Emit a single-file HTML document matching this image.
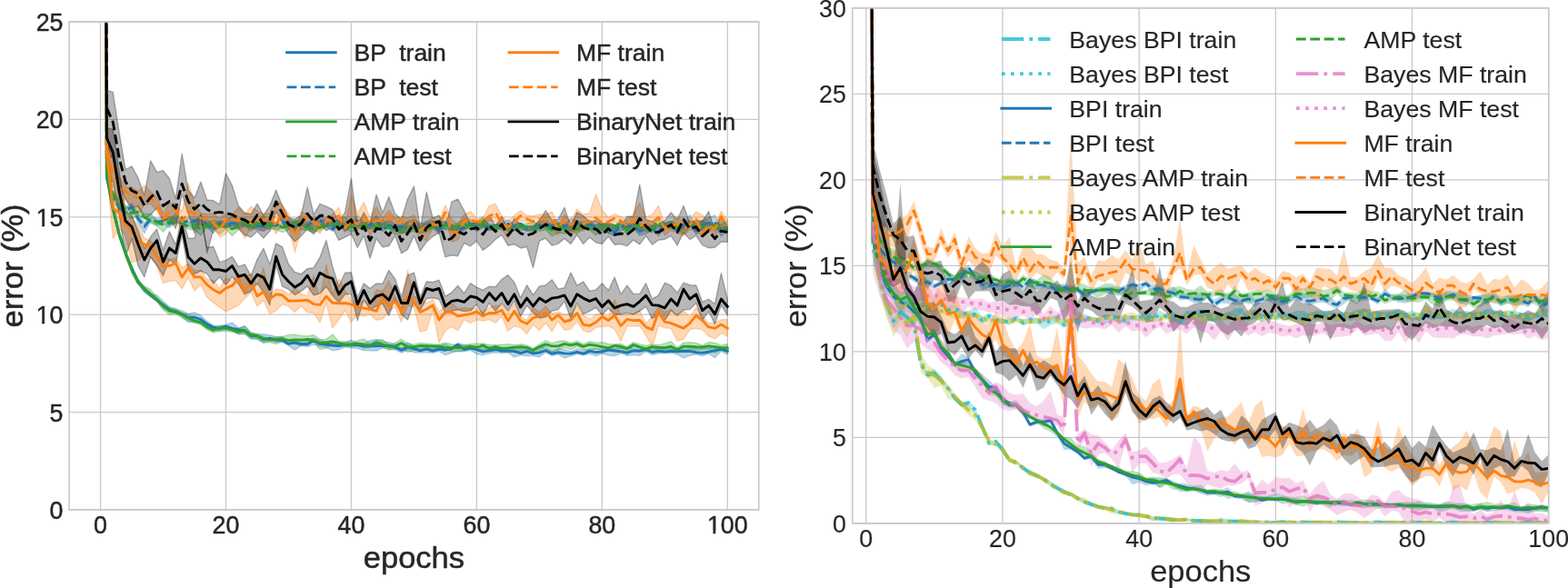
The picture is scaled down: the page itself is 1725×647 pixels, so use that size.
<!DOCTYPE html>
<html><head><meta charset="utf-8"><style>
html,body{margin:0;padding:0;background:#fff;overflow:hidden;}
svg{display:block;}
.tk{font-family:"Liberation Sans",Arial,sans-serif;font-size:26.8px;fill:#262626;stroke:#262626;stroke-width:0.45px;}
.lb{font-family:"Liberation Sans",Arial,sans-serif;font-size:33.6px;fill:#262626;stroke:#262626;stroke-width:0.5px;}
.lg{font-family:"Liberation Sans",Arial,sans-serif;font-size:26.5px;fill:#262626;stroke:#262626;stroke-width:0.45px;}
.tk2{font-family:"Liberation Sans",Arial,sans-serif;font-size:26.8px;fill:#262626;stroke:#262626;stroke-width:0.15px;}
.lb2{font-family:"Liberation Sans",Arial,sans-serif;font-size:33.6px;fill:#262626;stroke:#262626;stroke-width:0.15px;}
.lg2{font-family:"Liberation Sans",Arial,sans-serif;font-size:26.7px;fill:#262626;stroke:#262626;stroke-width:0.15px;}
</style></head><body>
<svg width="1725" height="647" viewBox="0 0 1725 647">
<rect width="1725" height="647" fill="#fff"/>
<line x1="110.54" y1="24.00" x2="110.54" y2="560.95" stroke="#c9c9c9" stroke-width="1.3"/>
<line x1="248.49" y1="24.00" x2="248.49" y2="560.95" stroke="#c9c9c9" stroke-width="1.3"/>
<line x1="386.45" y1="24.00" x2="386.45" y2="560.95" stroke="#c9c9c9" stroke-width="1.3"/>
<line x1="524.40" y1="24.00" x2="524.40" y2="560.95" stroke="#c9c9c9" stroke-width="1.3"/>
<line x1="662.36" y1="24.00" x2="662.36" y2="560.95" stroke="#c9c9c9" stroke-width="1.3"/>
<line x1="800.31" y1="24.00" x2="800.31" y2="560.95" stroke="#c9c9c9" stroke-width="1.3"/>
<line x1="76.05" y1="560.95" x2="834.80" y2="560.95" stroke="#c9c9c9" stroke-width="1.3"/>
<line x1="76.05" y1="453.56" x2="834.80" y2="453.56" stroke="#c9c9c9" stroke-width="1.3"/>
<line x1="76.05" y1="346.17" x2="834.80" y2="346.17" stroke="#c9c9c9" stroke-width="1.3"/>
<line x1="76.05" y1="238.78" x2="834.80" y2="238.78" stroke="#c9c9c9" stroke-width="1.3"/>
<line x1="76.05" y1="131.39" x2="834.80" y2="131.39" stroke="#c9c9c9" stroke-width="1.3"/>
<line x1="76.05" y1="24.00" x2="834.80" y2="24.00" stroke="#c9c9c9" stroke-width="1.3"/>
<line x1="952.82" y1="8.80" x2="952.82" y2="575.80" stroke="#c9c9c9" stroke-width="1.3"/>
<line x1="1102.99" y1="8.80" x2="1102.99" y2="575.80" stroke="#c9c9c9" stroke-width="1.3"/>
<line x1="1253.17" y1="8.80" x2="1253.17" y2="575.80" stroke="#c9c9c9" stroke-width="1.3"/>
<line x1="1403.35" y1="8.80" x2="1403.35" y2="575.80" stroke="#c9c9c9" stroke-width="1.3"/>
<line x1="1553.52" y1="8.80" x2="1553.52" y2="575.80" stroke="#c9c9c9" stroke-width="1.3"/>
<line x1="1703.70" y1="8.80" x2="1703.70" y2="575.80" stroke="#c9c9c9" stroke-width="1.3"/>
<line x1="937.80" y1="575.80" x2="1703.70" y2="575.80" stroke="#c9c9c9" stroke-width="1.3"/>
<line x1="937.80" y1="481.30" x2="1703.70" y2="481.30" stroke="#c9c9c9" stroke-width="1.3"/>
<line x1="937.80" y1="386.80" x2="1703.70" y2="386.80" stroke="#c9c9c9" stroke-width="1.3"/>
<line x1="937.80" y1="292.30" x2="1703.70" y2="292.30" stroke="#c9c9c9" stroke-width="1.3"/>
<line x1="937.80" y1="197.80" x2="1703.70" y2="197.80" stroke="#c9c9c9" stroke-width="1.3"/>
<line x1="937.80" y1="103.30" x2="1703.70" y2="103.30" stroke="#c9c9c9" stroke-width="1.3"/>
<line x1="937.80" y1="8.80" x2="1703.70" y2="8.80" stroke="#c9c9c9" stroke-width="1.3"/>
<clipPath id="ca"><rect x="76.05" y="24.0" width="758.75" height="536.95"/></clipPath>
<clipPath id="cb"><rect x="937.8" y="8.8" width="765.9000000000001" height="567.0"/></clipPath>
<g clip-path="url(#ca)">
<polygon points="117.4,190.3 124.3,227.7 131.2,255.5 138.1,275.2 145.0,291.9 151.9,307.2 158.8,316.1 165.7,322.9 172.6,324.8 179.5,331.6 186.4,337.4 193.3,340.2 200.2,341.9 207.1,345.4 214.0,343.8 220.9,347.2 227.8,353.5 234.7,358.2 241.6,358.8 248.5,357.1 255.4,355.1 262.3,360.8 269.2,359.1 276.1,366.0 283.0,367.4 289.9,367.8 296.8,368.7 303.7,370.5 310.6,370.5 317.5,375.7 324.4,373.8 331.3,374.3 338.2,373.7 345.1,372.3 352.0,373.9 358.9,376.8 365.8,375.4 372.7,377.4 379.6,377.0 386.4,374.1 393.3,377.6 400.2,377.8 407.1,374.7 414.0,373.6 420.9,376.0 427.8,376.7 434.7,379.1 441.6,382.8 448.5,376.8 455.4,381.5 462.3,383.7 469.2,382.2 476.1,383.2 483.0,380.5 489.9,378.6 496.8,382.1 503.7,377.5 510.6,379.3 517.5,380.1 524.4,380.9 531.3,383.1 538.2,381.5 545.1,381.9 552.0,382.7 558.9,384.0 565.8,382.7 572.7,384.0 579.6,382.2 586.5,385.8 593.4,381.8 600.3,382.8 607.2,386.7 614.1,383.6 621.0,384.5 627.9,386.8 634.8,383.7 641.7,385.9 648.6,383.9 655.5,383.4 662.4,384.6 669.3,382.3 676.2,383.7 683.0,382.7 689.9,383.1 696.8,382.6 703.7,384.5 710.6,382.5 717.5,384.4 724.4,383.0 731.3,382.5 738.2,383.5 745.1,382.7 752.0,384.3 758.9,383.6 765.8,383.2 772.7,382.9 779.6,383.6 786.5,381.2 793.4,381.9 800.3,381.3 800.3,390.0 793.4,386.6 786.5,393.6 779.6,389.3 772.7,391.5 765.8,389.8 758.9,391.3 752.0,393.8 745.1,389.7 738.2,388.2 731.3,388.7 724.4,388.9 717.5,390.5 710.6,386.8 703.7,391.3 696.8,390.6 689.9,391.3 683.0,388.6 676.2,391.5 669.3,391.0 662.4,388.9 655.5,391.7 648.6,389.2 641.7,390.9 634.8,389.4 627.9,391.8 621.0,394.0 614.1,389.8 607.2,391.5 600.3,387.8 593.4,392.8 586.5,391.5 579.6,391.5 572.7,390.7 565.8,393.1 558.9,387.8 552.0,388.2 545.1,387.9 538.2,388.7 531.3,390.6 524.4,389.6 517.5,385.2 510.6,386.7 503.7,386.5 496.8,388.0 489.9,390.6 483.0,386.5 476.1,388.4 469.2,387.5 462.3,388.1 455.4,387.7 448.5,385.4 441.6,388.0 434.7,384.9 427.8,383.7 420.9,382.9 414.0,386.0 407.1,385.7 400.2,385.5 393.3,383.4 386.4,382.8 379.6,381.8 372.7,384.8 365.8,385.7 358.9,381.9 352.0,381.1 345.1,379.1 338.2,381.6 331.3,380.3 324.4,385.2 317.5,380.3 310.6,376.1 303.7,376.6 296.8,375.0 289.9,377.3 283.0,372.8 276.1,372.9 269.2,367.3 262.3,368.0 255.4,363.9 248.5,362.2 241.6,364.5 234.7,362.4 227.8,360.4 220.9,354.0 214.0,354.2 207.1,354.4 200.2,347.9 193.3,344.7 186.4,343.2 179.5,339.2 172.6,331.8 165.7,327.0 158.8,321.5 151.9,311.8 145.0,297.5 138.1,280.3 131.2,262.2 124.3,235.6 117.4,197.2" fill="#1f77b4" fill-opacity="0.3" stroke="#1f77b4" stroke-opacity="0.3" stroke-width="1.4" stroke-linejoin="round"/>
<polygon points="117.4,184.8 124.3,215.1 131.2,224.9 138.1,228.1 145.0,223.7 151.9,233.8 158.8,245.5 165.7,239.0 172.6,239.9 179.5,240.7 186.4,242.4 193.3,235.1 200.2,240.3 207.1,240.2 214.0,242.0 220.9,236.8 227.8,242.1 234.7,246.2 241.6,243.3 248.5,242.6 255.4,238.0 262.3,241.3 269.2,240.9 276.1,243.9 283.0,244.7 289.9,246.5 296.8,243.4 303.7,245.0 310.6,235.4 317.5,242.0 324.4,244.0 331.3,240.5 338.2,244.5 345.1,241.0 352.0,238.9 358.9,242.7 365.8,250.1 372.7,239.0 379.6,248.7 386.4,245.4 393.3,237.0 400.2,244.9 407.1,244.5 414.0,237.3 420.9,246.6 427.8,241.8 434.7,247.6 441.6,246.7 448.5,243.8 455.4,241.5 462.3,245.8 469.2,243.8 476.1,243.1 483.0,245.2 489.9,242.2 496.8,247.3 503.7,250.8 510.6,248.9 517.5,243.2 524.4,245.5 531.3,240.3 538.2,247.0 545.1,246.8 552.0,245.9 558.9,241.4 565.8,247.3 572.7,244.7 579.6,249.9 586.5,248.8 593.4,242.7 600.3,242.6 607.2,247.0 614.1,245.1 621.0,246.9 627.9,240.2 634.8,243.1 641.7,244.6 648.6,242.3 655.5,248.5 662.4,245.1 669.3,247.0 676.2,251.7 683.0,243.2 689.9,245.9 696.8,246.0 703.7,251.5 710.6,247.7 717.5,247.8 724.4,248.7 731.3,245.2 738.2,243.6 745.1,251.3 752.0,245.5 758.9,236.5 765.8,249.8 772.7,243.2 779.6,239.5 786.5,236.9 793.4,250.6 800.3,248.3 800.3,253.4 793.4,260.1 786.5,247.4 779.6,248.0 772.7,251.6 765.8,257.9 758.9,247.5 752.0,251.6 745.1,255.9 738.2,249.4 731.3,251.4 724.4,259.5 717.5,253.2 710.6,257.2 703.7,259.2 696.8,251.2 689.9,251.2 683.0,253.7 676.2,259.7 669.3,256.7 662.4,253.8 655.5,252.4 648.6,252.9 641.7,249.7 634.8,249.2 627.9,254.3 621.0,250.6 614.1,249.3 607.2,251.5 600.3,249.9 593.4,251.4 586.5,254.3 579.6,254.4 572.7,250.0 565.8,254.1 558.9,250.9 552.0,253.1 545.1,251.2 538.2,253.5 531.3,250.3 524.4,254.7 517.5,248.7 510.6,253.7 503.7,256.5 496.8,253.1 489.9,247.5 483.0,256.9 476.1,249.2 469.2,252.6 462.3,252.6 455.4,248.3 448.5,255.9 441.6,255.8 434.7,254.4 427.8,250.0 420.9,254.5 414.0,244.6 407.1,252.1 400.2,252.2 393.3,247.1 386.4,249.9 379.6,254.6 372.7,248.0 365.8,254.5 358.9,249.4 352.0,245.3 345.1,246.6 338.2,249.6 331.3,247.8 324.4,255.8 317.5,249.2 310.6,250.8 303.7,252.7 296.8,250.2 289.9,254.3 283.0,253.0 276.1,250.3 269.2,249.5 262.3,248.0 255.4,248.4 248.5,250.1 241.6,249.0 234.7,256.4 227.8,250.2 220.9,246.1 214.0,252.2 207.1,248.2 200.2,247.7 193.3,244.3 186.4,250.6 179.5,246.3 172.6,248.2 165.7,243.4 158.8,256.6 151.9,245.5 145.0,229.9 138.1,234.2 131.2,231.7 124.3,220.2 117.4,198.9" fill="#1f77b4" fill-opacity="0.3" stroke="#1f77b4" stroke-opacity="0.3" stroke-width="1.4" stroke-linejoin="round"/>
<polygon points="117.4,187.0 124.3,224.4 131.2,255.3 138.1,276.0 145.0,294.6 151.9,308.3 158.8,314.9 165.7,318.4 172.6,327.4 179.5,334.2 186.4,338.7 193.3,339.4 200.2,344.4 207.1,345.5 214.0,350.8 220.9,349.9 227.8,356.2 234.7,360.8 241.6,358.3 248.5,358.9 255.4,360.4 262.3,361.7 269.2,358.4 276.1,366.1 283.0,367.6 289.9,370.5 296.8,372.1 303.7,371.1 310.6,370.3 317.5,368.4 324.4,367.9 331.3,369.4 338.2,369.7 345.1,368.6 352.0,373.4 358.9,373.2 365.8,368.0 372.7,375.6 379.6,375.7 386.4,377.0 393.3,374.9 400.2,372.9 407.1,378.1 414.0,374.0 420.9,373.6 427.8,379.5 434.7,377.3 441.6,373.2 448.5,378.1 455.4,379.0 462.3,377.4 469.2,378.0 476.1,378.7 483.0,378.9 489.9,377.1 496.8,378.7 503.7,379.3 510.6,380.2 517.5,378.5 524.4,378.3 531.3,378.0 538.2,379.5 545.1,379.5 552.0,379.1 558.9,378.6 565.8,379.6 572.7,378.8 579.6,379.9 586.5,383.1 593.4,378.9 600.3,374.7 607.2,377.8 614.1,375.4 621.0,375.0 627.9,377.5 634.8,375.3 641.7,378.7 648.6,375.7 655.5,377.2 662.4,376.4 669.3,378.5 676.2,378.7 683.0,378.3 689.9,381.6 696.8,376.6 703.7,379.0 710.6,380.2 717.5,378.9 724.4,379.6 731.3,377.9 738.2,375.7 745.1,382.7 752.0,376.9 758.9,376.7 765.8,377.5 772.7,380.0 779.6,376.5 786.5,377.3 793.4,379.9 800.3,378.5 800.3,385.2 793.4,385.2 786.5,388.7 779.6,384.2 772.7,384.5 765.8,385.4 758.9,384.9 752.0,386.1 745.1,388.5 738.2,383.9 731.3,384.7 724.4,385.3 717.5,384.7 710.6,386.7 703.7,383.7 696.8,381.1 689.9,389.6 683.0,383.8 676.2,383.9 669.3,385.0 662.4,385.2 655.5,383.6 648.6,386.0 641.7,384.8 634.8,381.2 627.9,384.6 621.0,382.0 614.1,384.9 607.2,387.0 600.3,381.5 593.4,385.8 586.5,389.6 579.6,384.5 572.7,385.4 565.8,387.1 558.9,388.1 552.0,387.9 545.1,383.2 538.2,385.7 531.3,384.4 524.4,385.2 517.5,383.0 510.6,385.9 503.7,386.5 496.8,386.4 489.9,385.6 483.0,385.4 476.1,384.8 469.2,383.7 462.3,386.0 455.4,385.4 448.5,387.6 441.6,383.0 434.7,383.9 427.8,385.2 420.9,381.9 414.0,378.9 407.1,382.7 400.2,383.2 393.3,380.0 386.4,381.5 379.6,381.5 372.7,381.0 365.8,379.2 358.9,383.3 352.0,384.4 345.1,376.5 338.2,376.0 331.3,380.8 324.4,378.5 317.5,377.8 310.6,375.9 303.7,378.6 296.8,376.6 289.9,377.1 283.0,373.3 276.1,372.3 269.2,367.1 262.3,367.2 255.4,365.2 248.5,364.2 241.6,364.3 234.7,366.1 227.8,362.9 220.9,357.2 214.0,355.5 207.1,353.1 200.2,350.0 193.3,345.3 186.4,346.2 179.5,341.0 172.6,331.9 165.7,325.6 158.8,321.1 151.9,312.8 145.0,300.8 138.1,282.4 131.2,260.0 124.3,231.0 117.4,191.7" fill="#2ca02c" fill-opacity="0.3" stroke="#2ca02c" stroke-opacity="0.3" stroke-width="1.4" stroke-linejoin="round"/>
<polygon points="117.4,179.6 124.3,210.0 131.2,220.5 138.1,226.1 145.0,232.1 151.9,226.9 158.8,235.8 165.7,234.9 172.6,242.2 179.5,243.5 186.4,238.7 193.3,239.5 200.2,240.7 207.1,245.7 214.0,241.1 220.9,248.2 227.8,245.3 234.7,242.2 241.6,243.5 248.5,245.4 255.4,250.0 262.3,245.5 269.2,242.7 276.1,246.4 283.0,243.2 289.9,236.9 296.8,245.7 303.7,245.2 310.6,248.2 317.5,246.0 324.4,242.3 331.3,243.5 338.2,248.4 345.1,248.3 352.0,247.3 358.9,245.2 365.8,242.6 372.7,242.0 379.6,238.7 386.4,246.7 393.3,243.1 400.2,244.8 407.1,245.0 414.0,247.5 420.9,241.4 427.8,247.6 434.7,251.3 441.6,249.8 448.5,244.5 455.4,248.6 462.3,250.5 469.2,249.1 476.1,244.5 483.0,242.7 489.9,244.0 496.8,248.4 503.7,245.4 510.6,240.8 517.5,241.3 524.4,244.0 531.3,238.3 538.2,248.6 545.1,247.2 552.0,246.3 558.9,247.8 565.8,247.3 572.7,245.6 579.6,246.3 586.5,244.0 593.4,247.7 600.3,247.4 607.2,246.8 614.1,246.3 621.0,249.9 627.9,248.4 634.8,250.3 641.7,245.8 648.6,248.6 655.5,246.8 662.4,245.1 669.3,247.2 676.2,247.0 683.0,242.6 689.9,250.3 696.8,246.3 703.7,245.9 710.6,248.7 717.5,249.8 724.4,241.1 731.3,245.6 738.2,243.2 745.1,246.4 752.0,248.9 758.9,242.4 765.8,245.5 772.7,243.0 779.6,246.5 786.5,244.6 793.4,247.2 800.3,242.7 800.3,252.3 793.4,255.0 786.5,250.5 779.6,253.9 772.7,253.9 765.8,250.5 758.9,249.6 752.0,257.7 745.1,253.1 738.2,251.4 731.3,251.5 724.4,248.7 717.5,255.9 710.6,254.0 703.7,254.3 696.8,251.9 689.9,259.2 683.0,248.0 676.2,252.4 669.3,256.6 662.4,252.4 655.5,258.9 648.6,253.0 641.7,251.6 634.8,257.3 627.9,254.0 621.0,257.3 614.1,255.9 607.2,259.8 600.3,252.8 593.4,254.3 586.5,252.7 579.6,253.4 572.7,253.0 565.8,253.2 558.9,255.0 552.0,250.8 545.1,252.5 538.2,253.5 531.3,248.8 524.4,252.6 517.5,252.3 510.6,250.3 503.7,250.9 496.8,254.3 489.9,251.9 483.0,252.2 476.1,251.1 469.2,255.6 462.3,256.3 455.4,254.8 448.5,255.8 441.6,256.7 434.7,258.2 427.8,251.8 420.9,251.2 414.0,253.8 407.1,251.0 400.2,251.8 393.3,250.7 386.4,255.8 379.6,251.5 372.7,251.0 365.8,248.8 358.9,249.9 352.0,253.5 345.1,255.5 338.2,253.5 331.3,252.7 324.4,249.0 317.5,253.0 310.6,255.6 303.7,252.4 296.8,252.6 289.9,249.6 283.0,248.2 276.1,254.1 269.2,248.1 262.3,253.1 255.4,259.5 248.5,251.7 241.6,257.6 234.7,251.9 227.8,250.3 220.9,258.9 214.0,252.7 207.1,252.2 200.2,247.1 193.3,245.1 186.4,248.1 179.5,255.1 172.6,248.7 165.7,245.5 158.8,240.6 151.9,237.0 145.0,240.5 138.1,235.2 131.2,230.0 124.3,218.3 117.4,195.2" fill="#2ca02c" fill-opacity="0.3" stroke="#2ca02c" stroke-opacity="0.3" stroke-width="1.4" stroke-linejoin="round"/>
<polygon points="117.4,125.8 124.3,222.4 131.2,226.6 138.1,241.3 145.0,239.2 151.9,248.5 158.8,261.8 165.7,265.2 172.6,272.0 179.5,279.6 186.4,285.6 193.3,284.1 200.2,294.7 207.1,290.3 214.0,297.9 220.9,297.1 227.8,307.3 234.7,308.8 241.6,317.2 248.5,305.8 255.4,309.4 262.3,301.3 269.2,304.2 276.1,301.6 283.0,313.8 289.9,294.7 296.8,324.0 303.7,318.3 310.6,318.9 317.5,324.0 324.4,317.0 331.3,323.6 338.2,325.4 345.1,303.2 352.0,329.7 358.9,291.3 365.8,323.3 372.7,307.0 379.6,319.8 386.4,330.3 393.3,333.2 400.2,331.0 407.1,334.9 414.0,318.8 420.9,320.5 427.8,308.8 434.7,327.0 441.6,339.7 448.5,297.1 455.4,326.5 462.3,327.7 469.2,333.9 476.1,329.5 483.0,342.7 489.9,336.4 496.8,333.6 503.7,339.8 510.6,338.6 517.5,339.3 524.4,339.5 531.3,343.7 538.2,338.2 545.1,336.4 552.0,335.9 558.9,343.1 565.8,334.5 572.7,348.4 579.6,352.4 586.5,338.5 593.4,343.5 600.3,336.9 607.2,345.0 614.1,343.1 621.0,346.3 627.9,344.9 634.8,336.5 641.7,346.7 648.6,351.4 655.5,346.3 662.4,344.9 669.3,348.7 676.2,329.4 683.0,347.2 689.9,346.2 696.8,345.8 703.7,341.6 710.6,356.2 717.5,347.7 724.4,338.5 731.3,343.6 738.2,340.3 745.1,348.1 752.0,341.4 758.9,349.2 765.8,338.6 772.7,347.6 779.6,355.7 786.5,355.0 793.4,351.8 800.3,351.6 800.3,369.8 793.4,366.6 786.5,372.8 779.6,369.8 772.7,362.6 765.8,361.4 758.9,362.7 752.0,373.2 745.1,375.0 738.2,361.6 731.3,360.6 724.4,358.4 717.5,381.6 710.6,369.0 703.7,358.7 696.8,358.8 689.9,359.1 683.0,375.4 676.2,362.2 669.3,358.7 662.4,359.3 655.5,360.2 648.6,365.9 641.7,363.7 634.8,353.5 627.9,362.1 621.0,363.2 614.1,353.5 607.2,364.7 600.3,355.3 593.4,363.6 586.5,357.1 579.6,367.3 572.7,360.6 565.8,358.8 558.9,364.3 552.0,348.5 545.1,355.2 538.2,351.6 531.3,353.0 524.4,351.8 517.5,355.5 510.6,351.9 503.7,363.8 496.8,359.3 489.9,364.0 483.0,377.0 476.1,341.4 469.2,363.3 462.3,364.9 455.4,338.1 448.5,336.2 441.6,354.6 434.7,337.6 427.8,343.2 420.9,350.8 414.0,352.2 407.1,345.7 400.2,347.8 393.3,345.9 386.4,354.8 379.6,341.5 372.7,351.5 365.8,360.8 358.9,333.8 352.0,354.9 345.1,344.3 338.2,343.8 331.3,336.5 324.4,343.4 317.5,336.9 310.6,334.8 303.7,341.8 296.8,345.3 289.9,330.4 283.0,337.1 276.1,321.5 269.2,328.7 262.3,335.7 255.4,339.4 248.5,342.8 241.6,337.9 234.7,332.9 227.8,327.0 220.9,313.2 214.0,319.9 207.1,305.5 200.2,317.9 193.3,308.6 186.4,309.4 179.5,311.5 172.6,292.3 165.7,283.2 158.8,278.9 151.9,286.6 145.0,288.8 138.1,259.5 131.2,251.1 124.3,262.8 117.4,184.9" fill="#ff7f0e" fill-opacity="0.3" stroke="#ff7f0e" stroke-opacity="0.3" stroke-width="1.4" stroke-linejoin="round"/>
<polygon points="117.4,156.6 124.3,175.5 131.2,194.4 138.1,205.8 145.0,205.8 151.9,210.4 158.8,204.0 165.7,211.0 172.6,217.0 179.5,234.9 186.4,223.3 193.3,223.9 200.2,233.0 207.1,201.4 214.0,223.8 220.9,234.5 227.8,235.6 234.7,235.0 241.6,241.3 248.5,234.6 255.4,236.8 262.3,228.2 269.2,235.8 276.1,227.2 283.0,232.0 289.9,235.6 296.8,234.6 303.7,219.9 310.6,225.7 317.5,234.7 324.4,253.0 331.3,232.8 338.2,235.9 345.1,240.7 352.0,243.0 358.9,239.2 365.8,235.5 372.7,228.3 379.6,247.2 386.4,214.3 393.3,234.8 400.2,222.5 407.1,239.8 414.0,227.5 420.9,239.6 427.8,231.5 434.7,239.9 441.6,237.7 448.5,239.8 455.4,236.8 462.3,249.3 469.2,243.6 476.1,239.4 483.0,243.2 489.9,225.9 496.8,241.6 503.7,246.4 510.6,236.3 517.5,232.6 524.4,240.0 531.3,240.1 538.2,226.3 545.1,224.2 552.0,237.6 558.9,244.4 565.8,237.1 572.7,231.9 579.6,236.9 586.5,237.6 593.4,235.9 600.3,236.1 607.2,233.1 614.1,247.2 621.0,236.3 627.9,243.6 634.8,229.9 641.7,236.0 648.6,234.5 655.5,213.4 662.4,231.1 669.3,239.2 676.2,235.6 683.0,238.2 689.9,242.4 696.8,235.6 703.7,223.4 710.6,238.8 717.5,236.2 724.4,226.5 731.3,246.7 738.2,245.0 745.1,237.4 752.0,244.7 758.9,240.9 765.8,233.1 772.7,236.6 779.6,243.9 786.5,248.0 793.4,232.6 800.3,242.0 800.3,256.3 793.4,251.7 786.5,258.6 779.6,252.9 772.7,260.5 765.8,254.3 758.9,252.4 752.0,259.4 745.1,256.5 738.2,253.7 731.3,259.1 724.4,245.3 717.5,250.6 710.6,253.6 703.7,253.6 696.8,248.1 689.9,252.6 683.0,246.7 676.2,244.1 669.3,249.2 662.4,249.3 655.5,243.2 648.6,248.3 641.7,254.3 634.8,253.7 627.9,256.5 621.0,244.6 614.1,258.9 607.2,249.8 600.3,251.3 593.4,247.7 586.5,249.3 579.6,244.6 572.7,242.5 565.8,250.0 558.9,262.1 552.0,252.2 545.1,244.1 538.2,242.5 531.3,250.6 524.4,247.9 517.5,249.8 510.6,249.6 503.7,264.1 496.8,266.0 489.9,239.4 483.0,256.9 476.1,251.9 469.2,264.3 462.3,262.6 455.4,251.8 448.5,251.7 441.6,257.5 434.7,253.1 427.8,244.7 420.9,248.3 414.0,247.9 407.1,259.1 400.2,244.5 393.3,253.3 386.4,246.3 379.6,255.4 372.7,242.8 365.8,244.2 358.9,247.7 352.0,257.0 345.1,252.0 338.2,246.0 331.3,252.1 324.4,277.4 317.5,249.1 310.6,246.6 303.7,257.3 296.8,243.6 289.9,254.0 283.0,250.5 276.1,250.7 269.2,262.3 262.3,247.9 255.4,245.5 248.5,257.6 241.6,260.8 234.7,250.2 227.8,245.1 220.9,247.9 214.0,242.9 207.1,238.3 200.2,251.7 193.3,246.7 186.4,237.9 179.5,245.8 172.6,232.0 165.7,224.4 158.8,225.3 151.9,236.2 145.0,234.4 138.1,218.2 131.2,230.9 124.3,204.5 117.4,167.9" fill="#ff7f0e" fill-opacity="0.3" stroke="#ff7f0e" stroke-opacity="0.3" stroke-width="1.4" stroke-linejoin="round"/>
<polygon points="117.4,141.1 124.3,142.1 131.2,189.4 138.1,232.9 145.0,237.1 151.9,253.9 158.8,273.6 165.7,260.5 172.6,252.0 179.5,275.0 186.4,254.6 193.3,269.2 200.2,237.6 207.1,262.0 214.0,262.1 220.9,237.2 227.8,272.5 234.7,271.2 241.6,288.4 248.5,286.4 255.4,282.2 262.3,293.3 269.2,290.8 276.1,303.4 283.0,285.3 289.9,273.2 296.8,290.7 303.7,267.8 310.6,271.8 317.5,290.8 324.4,299.5 331.3,301.6 338.2,295.6 345.1,294.6 352.0,282.9 358.9,264.3 365.8,292.9 372.7,315.4 379.6,300.3 386.4,299.6 393.3,327.4 400.2,311.7 407.1,317.4 414.0,311.9 420.9,312.1 427.8,297.3 434.7,306.8 441.6,326.4 448.5,302.9 455.4,300.0 462.3,326.7 469.2,309.8 476.1,310.5 483.0,308.1 489.9,326.1 496.8,321.8 503.7,314.2 510.6,322.7 517.5,311.5 524.4,316.1 531.3,319.2 538.2,315.2 545.1,315.7 552.0,307.4 558.9,302.6 565.8,310.8 572.7,327.8 579.6,313.7 586.5,324.5 593.4,314.9 600.3,313.7 607.2,307.8 614.1,317.9 621.0,316.6 627.9,299.9 634.8,314.1 641.7,309.8 648.6,320.1 655.5,319.1 662.4,311.8 669.3,319.5 676.2,305.1 683.0,323.7 689.9,314.1 696.8,323.3 703.7,323.4 710.6,311.7 717.5,329.1 724.4,324.9 731.3,311.2 738.2,314.2 745.1,321.9 752.0,311.2 758.9,313.6 765.8,314.0 772.7,332.2 779.6,329.2 786.5,334.5 793.4,300.4 800.3,329.1 800.3,347.2 793.4,335.8 786.5,356.6 779.6,342.6 772.7,352.4 765.8,333.4 758.9,340.5 752.0,340.8 745.1,347.1 738.2,341.6 731.3,352.7 724.4,345.9 717.5,350.7 710.6,337.2 703.7,342.4 696.8,345.9 689.9,344.4 683.0,345.8 676.2,346.5 669.3,339.2 662.4,346.5 655.5,338.4 648.6,342.6 641.7,345.5 634.8,333.6 627.9,350.4 621.0,331.6 614.1,340.5 607.2,342.2 600.3,348.8 593.4,350.0 586.5,343.9 579.6,336.2 572.7,348.2 565.8,331.3 558.9,341.8 552.0,333.9 545.1,342.2 538.2,333.5 531.3,346.5 524.4,335.1 517.5,341.9 510.6,342.6 503.7,340.8 496.8,342.1 489.9,344.7 483.0,329.2 476.1,327.8 469.2,328.8 462.3,341.2 455.4,331.9 448.5,352.0 441.6,345.9 434.7,327.5 427.8,347.4 420.9,333.9 414.0,336.9 407.1,340.7 400.2,329.6 393.3,352.8 386.4,323.6 379.6,323.8 372.7,333.0 365.8,325.0 358.9,315.2 352.0,323.0 345.1,324.8 338.2,314.9 331.3,320.4 324.4,324.6 317.5,318.4 310.6,315.2 303.7,292.1 296.8,335.7 289.9,321.7 283.0,311.6 276.1,320.4 269.2,323.8 262.3,312.2 255.4,304.8 248.5,313.6 241.6,304.8 234.7,311.9 227.8,301.3 220.9,298.2 214.0,301.5 207.1,297.4 200.2,258.4 193.3,290.6 186.4,285.9 179.5,303.3 172.6,292.2 165.7,282.9 158.8,304.8 151.9,292.5 145.0,262.7 138.1,282.2 131.2,236.6 124.3,200.1 117.4,194.8" fill="#000000" fill-opacity="0.28" stroke="#000000" stroke-opacity="0.28" stroke-width="1.4" stroke-linejoin="round"/>
<polygon points="117.4,99.2 124.3,101.3 131.2,146.4 138.1,186.5 145.0,182.9 151.9,195.7 158.8,215.2 165.7,176.8 172.6,189.4 179.5,187.6 186.4,196.5 193.3,218.6 200.2,169.0 207.1,209.4 214.0,217.8 220.9,200.1 227.8,220.0 234.7,220.7 241.6,224.9 248.5,190.8 255.4,204.0 262.3,226.1 269.2,234.3 276.1,235.7 283.0,224.2 289.9,236.8 296.8,226.3 303.7,209.1 310.6,226.4 317.5,239.6 324.4,241.1 331.3,236.9 338.2,205.9 345.1,236.0 352.0,224.3 358.9,227.2 365.8,230.5 372.7,244.8 379.6,233.4 386.4,196.1 393.3,248.6 400.2,233.8 407.1,245.9 414.0,214.1 420.9,234.3 427.8,216.5 434.7,235.2 441.6,241.2 448.5,218.8 455.4,204.7 462.3,252.0 469.2,211.1 476.1,239.8 483.0,236.9 489.9,252.3 496.8,222.2 503.7,219.1 510.6,231.5 517.5,246.2 524.4,244.3 531.3,243.4 538.2,236.5 545.1,248.7 552.0,238.4 558.9,252.4 565.8,240.5 572.7,247.6 579.6,248.4 586.5,249.3 593.4,243.1 600.3,231.5 607.2,242.4 614.1,241.3 621.0,228.2 627.9,248.9 634.8,233.6 641.7,237.5 648.6,243.7 655.5,243.0 662.4,247.2 669.3,245.2 676.2,247.6 683.0,250.0 689.9,237.9 696.8,238.7 703.7,203.1 710.6,241.6 717.5,243.6 724.4,247.9 731.3,242.6 738.2,233.7 745.1,241.8 752.0,226.3 758.9,245.5 765.8,242.3 772.7,243.5 779.6,232.7 786.5,253.9 793.4,237.0 800.3,250.0 800.3,266.3 793.4,266.3 786.5,272.2 779.6,272.8 772.7,269.6 765.8,259.2 758.9,263.6 752.0,255.7 745.1,269.9 738.2,259.6 731.3,263.3 724.4,264.3 717.5,269.2 710.6,259.7 703.7,268.9 696.8,264.1 689.9,270.8 683.0,268.5 676.2,269.2 669.3,260.3 662.4,268.4 655.5,266.7 648.6,261.3 641.7,268.5 634.8,258.4 627.9,268.5 621.0,262.4 614.1,268.1 607.2,270.3 600.3,262.2 593.4,265.2 586.5,294.7 579.6,271.5 572.7,273.0 565.8,268.7 558.9,270.2 552.0,258.6 545.1,263.5 538.2,270.3 531.3,275.4 524.4,265.3 517.5,270.8 510.6,267.5 503.7,281.8 496.8,280.9 489.9,282.8 483.0,256.3 476.1,260.2 469.2,266.2 462.3,276.2 455.4,259.4 448.5,274.4 441.6,278.8 434.7,259.6 427.8,270.7 420.9,271.9 414.0,262.6 407.1,284.2 400.2,259.6 393.3,272.5 386.4,257.7 379.6,260.9 372.7,264.4 365.8,250.3 358.9,253.7 352.0,247.0 345.1,257.7 338.2,252.1 331.3,259.8 324.4,265.7 317.5,258.0 310.6,245.0 303.7,233.0 296.8,254.4 289.9,262.0 283.0,254.7 276.1,261.1 269.2,258.5 262.3,251.7 255.4,248.6 248.5,250.6 241.6,249.6 234.7,253.1 227.8,278.4 220.9,235.4 214.0,257.1 207.1,235.2 200.2,213.6 193.3,251.6 186.4,241.2 179.5,242.7 172.6,228.7 165.7,236.6 158.8,240.6 151.9,226.7 145.0,228.9 138.1,219.1 131.2,202.3 124.3,173.3 117.4,172.2" fill="#000000" fill-opacity="0.28" stroke="#000000" stroke-opacity="0.28" stroke-width="1.4" stroke-linejoin="round"/>
<polyline points="110.5,-1372.1 117.4,193.7 124.3,230.2 131.2,258.1 138.1,278.5 145.0,295.7 151.9,309.7 158.8,318.2 165.7,324.7 172.6,330.1 179.5,335.4 186.4,341.0 193.3,342.9 200.2,345.6 207.1,349.4 214.0,349.0 220.9,351.5 227.8,356.6 234.7,360.1 241.6,361.6 248.5,359.1 255.4,361.3 262.3,362.6 269.2,363.8 276.1,369.5 283.0,369.8 289.9,373.5 296.8,372.2 303.7,374.2 310.6,374.4 317.5,378.4 324.4,376.9 331.3,378.5 338.2,378.8 345.1,374.5 352.0,378.4 358.9,379.0 365.8,380.0 372.7,380.7 379.6,379.1 386.4,379.5 393.3,379.7 400.2,380.8 407.1,380.8 414.0,380.7 420.9,380.5 427.8,380.3 434.7,382.0 441.6,385.4 448.5,382.1 455.4,383.5 462.3,385.8 469.2,384.0 476.1,386.1 483.0,384.0 489.9,385.2 496.8,383.9 503.7,379.3 510.6,384.5 517.5,383.2 524.4,384.6 531.3,386.9 538.2,385.7 545.1,384.7 552.0,386.1 558.9,385.8 565.8,386.5 572.7,388.5 579.6,386.5 586.5,388.9 593.4,388.1 600.3,385.5 607.2,389.2 614.1,387.7 621.0,388.9 627.9,389.1 634.8,387.3 641.7,389.2 648.6,386.3 655.5,387.6 662.4,387.0 669.3,385.1 676.2,386.0 683.0,386.8 689.9,388.2 696.8,385.8 703.7,386.3 710.6,384.5 717.5,387.5 724.4,386.1 731.3,387.0 738.2,386.2 745.1,386.5 752.0,386.5 758.9,386.5 765.8,387.7 772.7,388.2 779.6,387.3 786.5,385.7 793.4,384.3 800.3,386.5" fill="none" stroke="#1f77b4" stroke-width="2.9" stroke-linejoin="round" stroke-linecap="square"/>
<polyline points="110.5,-1372.1 117.4,195.8 124.3,217.3 131.2,228.0 138.1,231.3 145.0,227.6 151.9,240.3 158.8,249.5 165.7,240.9 172.6,244.1 179.5,243.1 186.4,246.1 193.3,240.9 200.2,245.2 207.1,243.1 214.0,244.0 220.9,240.3 227.8,247.4 234.7,250.9 241.6,245.9 248.5,247.4 255.4,245.5 262.3,246.2 269.2,245.8 276.1,247.5 283.0,248.8 289.9,249.3 296.8,247.7 303.7,248.2 310.6,244.5 317.5,245.4 324.4,250.6 331.3,245.1 338.2,247.2 345.1,244.0 352.0,242.9 358.9,245.5 365.8,252.1 372.7,245.2 379.6,251.5 386.4,247.4 393.3,242.8 400.2,249.1 407.1,247.9 414.0,242.4 420.9,252.6 427.8,247.6 434.7,250.8 441.6,249.4 448.5,250.3 455.4,246.2 462.3,249.1 469.2,247.4 476.1,246.7 483.0,253.4 489.9,244.7 496.8,249.5 503.7,253.6 510.6,250.9 517.5,246.6 524.4,249.5 531.3,246.4 538.2,251.2 545.1,248.9 552.0,248.5 558.9,246.3 565.8,249.6 572.7,246.4 579.6,251.7 586.5,251.2 593.4,247.3 600.3,247.1 607.2,249.3 614.1,247.5 621.0,248.6 627.9,247.0 634.8,245.9 641.7,247.7 648.6,246.9 655.5,250.3 662.4,249.5 669.3,250.8 676.2,256.0 683.0,248.2 689.9,249.3 696.8,247.9 703.7,254.8 710.6,251.0 717.5,251.2 724.4,254.8 731.3,247.1 738.2,246.3 745.1,253.5 752.0,248.6 758.9,245.0 765.8,253.5 772.7,247.2 779.6,245.6 786.5,244.8 793.4,254.1 800.3,250.6" fill="none" stroke="#1f77b4" stroke-width="2.9" stroke-linejoin="round" stroke-linecap="butt" stroke-dasharray="10.73,4.64"/>
<polyline points="110.5,-1372.1 117.4,189.4 124.3,228.0 131.2,258.1 138.1,278.5 145.0,296.8 151.9,310.9 158.8,317.2 165.7,323.6 172.6,329.6 179.5,336.5 186.4,342.0 193.3,343.2 200.2,346.2 207.1,350.0 214.0,352.9 220.9,355.0 227.8,359.9 234.7,363.4 241.6,360.8 248.5,361.2 255.4,362.8 262.3,365.1 269.2,363.6 276.1,368.8 283.0,369.8 289.9,372.7 296.8,373.8 303.7,373.6 310.6,372.8 317.5,374.7 324.4,374.0 331.3,374.1 338.2,373.5 345.1,374.2 352.0,377.3 358.9,376.7 365.8,376.0 372.7,377.3 379.6,379.5 386.4,379.0 393.3,378.0 400.2,379.4 407.1,380.0 414.0,377.0 420.9,379.1 427.8,381.2 434.7,380.9 441.6,377.5 448.5,381.6 455.4,381.6 462.3,380.5 469.2,380.8 476.1,381.0 483.0,381.0 489.9,382.7 496.8,382.7 503.7,382.4 510.6,382.8 517.5,381.1 524.4,382.5 531.3,379.9 538.2,383.6 545.1,381.3 552.0,383.5 558.9,383.0 565.8,382.2 572.7,381.6 579.6,382.4 586.5,385.6 593.4,381.6 600.3,378.9 607.2,380.9 614.1,380.9 621.0,378.3 627.9,379.8 634.8,378.4 641.7,381.3 648.6,379.2 655.5,380.1 662.4,381.6 669.3,382.9 676.2,380.5 683.0,381.3 689.9,383.7 696.8,379.4 703.7,381.8 710.6,384.0 717.5,381.7 724.4,382.3 731.3,382.7 738.2,381.2 745.1,384.7 752.0,381.1 758.9,381.3 765.8,381.8 772.7,381.9 779.6,380.9 786.5,381.8 793.4,382.8 800.3,383.1" fill="none" stroke="#2ca02c" stroke-width="2.9" stroke-linejoin="round" stroke-linecap="square"/>
<polyline points="110.5,-1372.1 117.4,185.1 124.3,213.0 131.2,225.9 138.1,230.2 145.0,234.5 151.9,233.4 158.8,238.8 165.7,243.1 172.6,244.1 179.5,247.4 186.4,244.1 193.3,242.1 200.2,243.5 207.1,249.8 214.0,247.4 220.9,252.2 227.8,248.0 234.7,246.2 241.6,248.6 248.5,248.4 255.4,251.9 262.3,249.7 269.2,245.2 276.1,251.9 283.0,246.2 289.9,247.5 296.8,247.7 303.7,247.1 310.6,250.2 317.5,249.3 324.4,244.8 331.3,250.0 338.2,250.1 345.1,252.5 352.0,250.4 358.9,247.6 365.8,246.4 372.7,247.9 379.6,248.0 386.4,249.5 393.3,248.1 400.2,248.7 407.1,247.1 414.0,249.9 420.9,247.0 427.8,249.7 434.7,253.3 441.6,252.5 448.5,250.0 455.4,250.6 462.3,252.4 469.2,251.3 476.1,249.1 483.0,248.6 489.9,247.5 496.8,251.5 503.7,248.6 510.6,247.1 517.5,248.7 524.4,249.5 531.3,245.4 538.2,250.6 545.1,249.5 552.0,249.1 558.9,250.4 565.8,249.6 572.7,249.0 579.6,249.6 586.5,250.7 593.4,250.5 600.3,249.7 607.2,253.1 614.1,249.1 621.0,252.1 627.9,250.1 634.8,252.0 641.7,249.3 648.6,250.4 655.5,250.1 662.4,249.5 669.3,251.2 676.2,249.2 683.0,245.8 689.9,253.7 696.8,248.3 703.7,249.0 710.6,250.4 717.5,252.5 724.4,245.9 731.3,249.1 738.2,247.2 745.1,250.4 752.0,251.3 758.9,247.0 765.8,247.8 772.7,250.2 779.6,250.0 786.5,248.1 793.4,251.4 800.3,249.5" fill="none" stroke="#2ca02c" stroke-width="2.9" stroke-linejoin="round" stroke-linecap="butt" stroke-dasharray="10.73,4.64"/>
<polyline points="110.5,-1372.1 117.4,167.9 124.3,229.1 131.2,234.5 138.1,247.4 145.0,255.1 151.9,265.0 158.8,268.8 165.7,271.0 172.6,281.7 179.5,292.5 186.4,292.5 193.3,289.5 200.2,304.9 207.1,294.8 214.0,304.9 220.9,304.9 227.8,313.3 234.7,318.7 241.6,322.5 248.5,317.2 255.4,314.2 262.3,306.4 269.2,320.4 276.1,310.3 283.0,325.8 289.9,321.3 296.8,329.0 303.7,323.8 310.6,324.7 317.5,331.1 324.4,331.1 331.3,330.7 338.2,330.3 345.1,334.6 352.0,335.4 358.9,326.0 365.8,333.3 372.7,333.9 379.6,333.5 386.4,334.8 393.3,338.0 400.2,339.1 407.1,340.2 414.0,342.3 420.9,328.1 427.8,336.9 434.7,331.4 441.6,343.4 448.5,326.0 455.4,332.4 462.3,343.4 469.2,340.2 476.1,335.9 483.0,352.0 489.9,343.4 496.8,343.4 503.7,347.7 510.6,346.6 517.5,345.5 524.4,342.9 531.3,347.7 538.2,344.5 545.1,344.5 552.0,341.2 558.9,353.0 565.8,342.3 572.7,353.0 579.6,356.3 586.5,349.8 593.4,347.7 600.3,343.4 607.2,352.0 614.1,346.6 621.0,354.1 627.9,352.0 634.8,344.5 641.7,357.3 648.6,358.4 655.5,354.8 662.4,348.5 669.3,352.6 676.2,347.0 683.0,358.4 689.9,351.3 696.8,352.6 703.7,352.2 710.6,359.9 717.5,362.7 724.4,343.2 731.3,354.1 738.2,355.6 745.1,358.4 752.0,361.2 758.9,355.6 765.8,347.0 772.7,352.6 779.6,359.9 786.5,361.2 793.4,357.1 800.3,361.2" fill="none" stroke="#ff7f0e" stroke-width="2.9" stroke-linejoin="round" stroke-linecap="square"/>
<polyline points="110.5,-1372.1 117.4,161.5 124.3,189.4 131.2,204.4 138.1,210.9 145.0,215.2 151.9,217.3 158.8,217.3 165.7,217.3 172.6,225.9 179.5,240.9 186.4,232.3 193.3,230.2 200.2,244.1 207.1,232.3 214.0,234.5 220.9,239.9 227.8,240.9 234.7,245.2 241.6,252.7 248.5,242.0 255.4,241.5 262.3,242.6 269.2,242.9 276.1,245.6 283.0,242.2 289.9,243.4 296.8,238.3 303.7,248.6 310.6,231.7 317.5,244.1 324.4,259.4 331.3,243.7 338.2,239.7 345.1,244.9 352.0,247.5 358.9,244.0 365.8,240.3 372.7,237.5 379.6,251.0 386.4,242.4 393.3,246.6 400.2,238.3 407.1,245.8 414.0,242.5 420.9,243.1 427.8,238.0 434.7,244.9 441.6,242.4 448.5,247.5 455.4,245.2 462.3,253.4 469.2,248.2 476.1,246.6 483.0,247.5 489.9,233.7 496.8,255.5 503.7,255.3 510.6,243.3 517.5,241.5 524.4,244.1 531.3,243.6 538.2,238.5 545.1,233.7 552.0,246.1 558.9,250.2 565.8,244.2 572.7,237.4 579.6,240.9 586.5,243.8 593.4,241.1 600.3,242.0 607.2,241.2 614.1,251.3 621.0,240.9 627.9,247.4 634.8,244.7 641.7,246.3 648.6,243.6 655.5,239.6 662.4,245.4 669.3,243.8 676.2,240.4 683.0,242.8 689.9,248.6 696.8,241.6 703.7,247.7 710.6,247.3 717.5,245.1 724.4,239.0 731.3,250.9 738.2,248.8 745.1,246.3 752.0,251.5 758.9,246.9 765.8,241.5 772.7,256.7 779.6,248.0 786.5,251.9 793.4,238.5 800.3,248.4" fill="none" stroke="#ff7f0e" stroke-width="2.9" stroke-linejoin="round" stroke-linecap="butt" stroke-dasharray="10.73,4.64"/>
<polyline points="110.5,-1372.1 117.4,151.8 124.3,167.9 131.2,210.9 138.1,243.1 145.0,249.5 151.9,268.8 158.8,286.0 165.7,273.1 172.6,264.6 179.5,288.2 186.4,273.1 193.3,278.5 200.2,249.5 207.1,282.8 214.0,290.3 220.9,283.9 227.8,288.2 234.7,296.8 241.6,296.8 248.5,298.5 255.4,292.5 262.3,304.3 269.2,302.1 276.1,311.8 283.0,302.1 289.9,305.4 296.8,318.2 303.7,282.2 310.6,302.1 317.5,309.7 324.4,316.1 331.3,311.8 338.2,303.2 345.1,315.0 352.0,300.2 358.9,304.3 365.8,306.4 372.7,323.8 379.6,314.0 386.4,309.7 393.3,334.8 400.2,319.5 407.1,333.5 414.0,326.0 420.9,323.8 427.8,330.3 434.7,315.0 441.6,333.5 448.5,333.5 455.4,310.7 462.3,333.5 469.2,317.4 476.1,319.5 483.0,317.4 489.9,336.9 496.8,331.4 503.7,330.3 510.6,332.4 517.5,326.0 524.4,327.5 531.3,332.4 538.2,322.5 545.1,330.3 552.0,322.5 558.9,334.8 565.8,323.8 572.7,338.0 579.6,328.1 586.5,336.9 593.4,328.1 600.3,332.4 607.2,328.1 614.1,327.1 621.0,324.9 627.9,336.9 634.8,323.8 641.7,328.1 648.6,331.4 655.5,328.6 662.4,337.6 669.3,330.7 676.2,338.9 683.0,336.1 689.9,334.6 696.8,337.4 703.7,331.8 710.6,325.1 717.5,335.6 724.4,336.1 731.3,338.9 738.2,329.0 745.1,336.1 752.0,318.2 758.9,329.0 765.8,323.8 772.7,341.7 779.6,336.1 786.5,345.7 793.4,329.0 800.3,337.4" fill="none" stroke="#000000" stroke-width="2.9" stroke-linejoin="round" stroke-linecap="square"/>
<polyline points="110.5,-1372.1 117.4,118.5 124.3,134.6 131.2,174.3 138.1,200.1 145.0,209.8 151.9,213.0 158.8,225.9 165.7,217.3 172.6,210.9 179.5,226.5 186.4,221.6 193.3,229.1 200.2,202.3 207.1,221.6 214.0,230.2 220.9,223.7 227.8,230.2 234.7,234.5 241.6,233.4 248.5,234.5 255.4,236.2 262.3,239.9 269.2,242.0 276.1,246.9 283.0,236.6 289.9,246.9 296.8,241.6 303.7,222.0 310.6,234.9 317.5,246.9 324.4,250.2 331.3,245.9 338.2,235.1 345.1,243.7 352.0,237.3 358.9,237.3 365.8,240.5 372.7,252.3 379.6,247.4 386.4,241.6 393.3,257.9 400.2,249.1 407.1,264.3 414.0,251.5 420.9,252.5 427.8,259.0 434.7,248.0 441.6,265.4 448.5,256.8 455.4,245.9 462.3,264.3 469.2,250.4 476.1,245.9 483.0,243.7 489.9,265.4 496.8,262.2 503.7,254.7 510.6,257.9 517.5,252.1 524.4,250.6 531.3,257.9 538.2,248.0 545.1,254.7 552.0,246.9 558.9,259.0 565.8,250.4 572.7,256.8 579.6,259.0 586.5,256.8 593.4,251.5 600.3,246.9 607.2,250.4 614.1,252.5 621.0,252.5 627.9,259.0 634.8,243.7 641.7,250.4 648.6,252.5 655.5,251.7 662.4,258.3 669.3,251.5 676.2,258.3 683.0,257.0 689.9,258.1 696.8,252.7 703.7,240.3 710.6,248.7 717.5,255.5 724.4,255.5 731.3,251.5 738.2,247.2 745.1,255.5 752.0,241.6 758.9,251.7 765.8,249.5 772.7,259.8 779.6,253.8 786.5,262.6 793.4,254.2 800.3,255.5" fill="none" stroke="#000000" stroke-width="2.9" stroke-linejoin="round" stroke-linecap="butt" stroke-dasharray="10.73,4.64"/>
</g>
<line x1="315.60" y1="57.80" x2="369.20" y2="57.80" stroke="#1f77b4" stroke-width="2.9" stroke-linecap="square"/>
<text x="389.60" y="67.30" class="lg" style="white-space:pre">BP  train</text>
<line x1="315.60" y1="95.83" x2="369.20" y2="95.83" stroke="#1f77b4" stroke-width="2.9" stroke-linecap="butt" stroke-dasharray="10.73,4.64"/>
<text x="389.60" y="105.33" class="lg" style="white-space:pre">BP  test</text>
<line x1="315.60" y1="133.86" x2="369.20" y2="133.86" stroke="#2ca02c" stroke-width="2.9" stroke-linecap="square"/>
<text x="389.60" y="143.36" class="lg" style="white-space:pre">AMP train</text>
<line x1="315.60" y1="171.89" x2="369.20" y2="171.89" stroke="#2ca02c" stroke-width="2.9" stroke-linecap="butt" stroke-dasharray="10.73,4.64"/>
<text x="389.60" y="181.39" class="lg" style="white-space:pre">AMP test</text>
<line x1="560.00" y1="57.80" x2="613.60" y2="57.80" stroke="#ff7f0e" stroke-width="2.9" stroke-linecap="square"/>
<text x="634.00" y="67.30" class="lg" style="white-space:pre">MF train</text>
<line x1="560.00" y1="95.83" x2="613.60" y2="95.83" stroke="#ff7f0e" stroke-width="2.9" stroke-linecap="butt" stroke-dasharray="10.73,4.64"/>
<text x="634.00" y="105.33" class="lg" style="white-space:pre">MF test</text>
<line x1="560.00" y1="133.86" x2="613.60" y2="133.86" stroke="#000000" stroke-width="2.9" stroke-linecap="square"/>
<text x="634.00" y="143.36" class="lg" style="white-space:pre">BinaryNet train</text>
<line x1="560.00" y1="171.89" x2="613.60" y2="171.89" stroke="#000000" stroke-width="2.9" stroke-linecap="butt" stroke-dasharray="10.73,4.64"/>
<text x="634.00" y="181.39" class="lg" style="white-space:pre">BinaryNet test</text>
<g clip-path="url(#cb)">
<polygon points="960.3,261.5 967.8,294.0 975.3,326.1 982.9,349.9 990.4,339.9 997.9,345.1 1005.4,353.8 1012.9,398.1 1020.4,409.0 1027.9,405.7 1035.4,414.0 1042.9,425.4 1050.4,436.3 1057.9,442.7 1065.5,440.2 1073.0,448.6 1080.5,467.4 1088.0,485.7 1095.5,483.7 1103.0,493.5 1110.5,504.5 1118.0,506.4 1125.5,513.3 1133.0,518.6 1140.5,521.2 1148.0,524.7 1155.6,529.2 1163.1,535.7 1170.6,539.8 1178.1,541.6 1185.6,546.1 1193.1,550.1 1200.6,552.6 1208.1,555.6 1215.6,557.5 1223.1,557.3 1230.6,562.5 1238.2,563.9 1245.7,564.5 1253.2,565.1 1260.7,566.8 1268.2,568.4 1275.7,568.4 1283.2,568.6 1290.7,571.2 1298.2,571.1 1305.7,570.6 1313.2,571.7 1320.8,572.1 1328.3,572.2 1335.8,572.6 1343.3,569.5 1350.8,571.3 1358.3,571.5 1365.8,571.2 1373.3,573.6 1380.8,571.8 1388.3,573.0 1395.8,574.6 1403.3,573.8 1410.9,572.3 1418.4,573.2 1425.9,573.1 1433.4,573.1 1440.9,573.1 1448.4,572.6 1455.9,573.4 1463.4,574.2 1470.9,573.2 1478.4,574.4 1485.9,573.7 1493.5,573.7 1501.0,573.7 1508.5,572.8 1516.0,571.8 1523.5,574.3 1531.0,572.8 1538.5,573.6 1546.0,573.5 1553.5,574.0 1561.0,573.5 1568.5,573.8 1576.1,573.4 1583.6,572.9 1591.1,574.4 1598.6,573.7 1606.1,574.1 1613.6,573.4 1621.1,574.3 1628.6,573.2 1636.1,574.0 1643.6,572.6 1651.1,574.1 1658.6,572.6 1666.2,574.2 1673.7,573.1 1681.2,572.0 1688.7,574.9 1696.2,573.9 1703.7,573.9 1703.7,575.8 1696.2,575.8 1688.7,575.8 1681.2,575.2 1673.7,575.8 1666.2,575.8 1658.6,575.8 1651.1,575.8 1643.6,575.8 1636.1,575.8 1628.6,575.8 1621.1,575.8 1613.6,575.8 1606.1,575.8 1598.6,575.8 1591.1,575.8 1583.6,575.8 1576.1,575.8 1568.5,575.8 1561.0,575.8 1553.5,575.8 1546.0,575.8 1538.5,575.8 1531.0,575.8 1523.5,575.8 1516.0,575.8 1508.5,575.8 1501.0,575.8 1493.5,575.8 1485.9,575.8 1478.4,575.8 1470.9,575.8 1463.4,575.8 1455.9,575.8 1448.4,575.8 1440.9,575.8 1433.4,575.8 1425.9,575.8 1418.4,575.8 1410.9,575.6 1403.3,575.8 1395.8,575.8 1388.3,575.8 1380.8,575.8 1373.3,575.5 1365.8,575.5 1358.3,574.8 1350.8,575.4 1343.3,575.8 1335.8,575.8 1328.3,575.1 1320.8,575.2 1313.2,573.8 1305.7,572.9 1298.2,573.4 1290.7,574.6 1283.2,573.5 1275.7,573.4 1268.2,572.7 1260.7,570.4 1253.2,567.7 1245.7,567.8 1238.2,567.3 1230.6,565.3 1223.1,562.9 1215.6,560.7 1208.1,559.8 1200.6,557.5 1193.1,554.0 1185.6,550.3 1178.1,545.9 1170.6,541.9 1163.1,538.7 1155.6,533.7 1148.0,528.9 1140.5,525.1 1133.0,520.9 1125.5,516.2 1118.0,510.5 1110.5,508.7 1103.0,496.6 1095.5,489.0 1088.0,490.0 1080.5,470.7 1073.0,455.7 1065.5,446.8 1057.9,448.1 1050.4,441.6 1042.9,429.4 1035.4,421.0 1027.9,413.1 1020.4,416.4 1012.9,403.2 1005.4,359.8 997.9,354.0 990.4,351.0 982.9,361.6 975.3,338.7 967.8,313.4 960.3,290.7" fill="#17becf" fill-opacity="0.3"/>
<polygon points="960.3,252.4 967.8,290.1 975.3,308.6 982.9,322.0 990.4,327.7 997.9,330.5 1005.4,332.2 1012.9,335.2 1020.4,338.2 1027.9,334.6 1035.4,332.2 1042.9,337.6 1050.4,335.9 1057.9,341.4 1065.5,342.0 1073.0,338.1 1080.5,348.4 1088.0,344.3 1095.5,348.2 1103.0,351.6 1110.5,351.3 1118.0,346.9 1125.5,352.0 1133.0,348.7 1140.5,349.8 1148.0,352.7 1155.6,349.7 1163.1,346.7 1170.6,354.5 1178.1,347.7 1185.6,349.3 1193.1,345.3 1200.6,348.5 1208.1,350.2 1215.6,346.6 1223.1,346.2 1230.6,347.4 1238.2,348.8 1245.7,347.0 1253.2,346.4 1260.7,341.1 1268.2,348.4 1275.7,341.5 1283.2,345.8 1290.7,342.9 1298.2,351.0 1305.7,341.7 1313.2,342.0 1320.8,339.8 1328.3,343.5 1335.8,347.4 1343.3,345.7 1350.8,344.4 1358.3,339.2 1365.8,338.9 1373.3,348.2 1380.8,340.1 1388.3,346.3 1395.8,345.1 1403.3,345.9 1410.9,343.3 1418.4,344.9 1425.9,342.0 1433.4,341.9 1440.9,345.5 1448.4,341.5 1455.9,342.0 1463.4,341.6 1470.9,344.6 1478.4,342.4 1485.9,344.6 1493.5,341.8 1501.0,339.2 1508.5,345.1 1516.0,342.7 1523.5,343.4 1531.0,342.2 1538.5,340.7 1546.0,344.3 1553.5,341.4 1561.0,344.4 1568.5,344.5 1576.1,345.1 1583.6,344.7 1591.1,343.2 1598.6,339.7 1606.1,342.9 1613.6,341.7 1621.1,344.3 1628.6,343.8 1636.1,339.7 1643.6,340.5 1651.1,343.4 1658.6,341.9 1666.2,341.1 1673.7,344.2 1681.2,343.8 1688.7,345.1 1696.2,340.6 1703.7,339.2 1703.7,349.1 1696.2,348.7 1688.7,349.8 1681.2,353.4 1673.7,353.2 1666.2,347.3 1658.6,348.8 1651.1,349.6 1643.6,347.1 1636.1,344.6 1628.6,351.4 1621.1,351.5 1613.6,348.8 1606.1,348.6 1598.6,348.1 1591.1,350.9 1583.6,349.9 1576.1,352.5 1568.5,349.5 1561.0,353.7 1553.5,349.4 1546.0,349.8 1538.5,348.7 1531.0,348.3 1523.5,350.7 1516.0,349.9 1508.5,351.4 1501.0,347.4 1493.5,347.7 1485.9,353.4 1478.4,349.4 1470.9,349.7 1463.4,350.5 1455.9,349.4 1448.4,353.1 1440.9,350.3 1433.4,351.7 1425.9,351.6 1418.4,350.7 1410.9,350.4 1403.3,352.8 1395.8,350.7 1388.3,354.2 1380.8,350.2 1373.3,353.4 1365.8,345.1 1358.3,350.0 1350.8,351.6 1343.3,353.0 1335.8,354.9 1328.3,351.2 1320.8,348.8 1313.2,348.6 1305.7,348.4 1298.2,357.7 1290.7,351.2 1283.2,350.6 1275.7,348.1 1268.2,354.4 1260.7,351.5 1253.2,352.5 1245.7,352.6 1238.2,356.0 1230.6,354.4 1223.1,352.8 1215.6,356.9 1208.1,356.4 1200.6,352.9 1193.1,354.6 1185.6,357.5 1178.1,354.9 1170.6,361.3 1163.1,355.4 1155.6,357.8 1148.0,362.4 1140.5,355.8 1133.0,355.5 1125.5,358.3 1118.0,353.0 1110.5,357.2 1103.0,356.3 1095.5,356.2 1088.0,352.3 1080.5,356.2 1073.0,349.2 1065.5,350.5 1057.9,349.4 1050.4,341.1 1042.9,343.9 1035.4,337.8 1027.9,342.8 1020.4,342.4 1012.9,342.5 1005.4,340.0 997.9,336.0 990.4,334.6 982.9,326.6 975.3,313.7 967.8,297.6 960.3,258.0" fill="#17becf" fill-opacity="0.3"/>
<polygon points="960.3,248.3 967.8,281.2 975.3,299.8 982.9,313.6 990.4,318.9 997.9,322.9 1005.4,337.1 1012.9,342.9 1020.4,369.5 1027.9,360.9 1035.4,380.0 1042.9,385.4 1050.4,398.4 1057.9,389.1 1065.5,392.5 1073.0,406.1 1080.5,411.9 1088.0,418.3 1095.5,424.9 1103.0,435.3 1110.5,442.2 1118.0,440.3 1125.5,449.1 1133.0,465.4 1140.5,460.8 1148.0,461.5 1155.6,458.0 1163.1,472.8 1170.6,485.3 1178.1,491.0 1185.6,492.6 1193.1,501.6 1200.6,497.7 1208.1,507.3 1215.6,507.5 1223.1,513.2 1230.6,512.9 1238.2,519.3 1245.7,522.8 1253.2,521.3 1260.7,526.3 1268.2,524.5 1275.7,527.7 1283.2,525.6 1290.7,531.3 1298.2,531.6 1305.7,532.2 1313.2,534.6 1320.8,533.3 1328.3,539.6 1335.8,539.8 1343.3,539.2 1350.8,536.3 1358.3,543.0 1365.8,544.3 1373.3,540.3 1380.8,545.5 1388.3,548.3 1395.8,544.4 1403.3,542.8 1410.9,543.9 1418.4,547.7 1425.9,548.1 1433.4,550.0 1440.9,550.1 1448.4,550.7 1455.9,550.7 1463.4,550.2 1470.9,551.9 1478.4,549.3 1485.9,553.2 1493.5,551.0 1501.0,552.6 1508.5,550.1 1516.0,552.1 1523.5,553.5 1531.0,553.5 1538.5,553.3 1546.0,552.4 1553.5,552.2 1561.0,551.0 1568.5,552.6 1576.1,553.2 1583.6,554.5 1591.1,553.0 1598.6,554.8 1606.1,553.3 1613.6,553.8 1621.1,557.6 1628.6,553.6 1636.1,557.4 1643.6,556.8 1651.1,555.7 1658.6,555.3 1666.2,559.1 1673.7,557.9 1681.2,556.3 1688.7,556.7 1696.2,554.7 1703.7,557.4 1703.7,563.2 1696.2,563.0 1688.7,562.9 1681.2,565.0 1673.7,563.7 1666.2,563.5 1658.6,561.7 1651.1,561.0 1643.6,562.5 1636.1,563.5 1628.6,560.0 1621.1,562.9 1613.6,563.0 1606.1,562.9 1598.6,558.5 1591.1,562.0 1583.6,563.8 1576.1,559.5 1568.5,560.8 1561.0,559.5 1553.5,560.4 1546.0,558.2 1538.5,558.9 1531.0,559.1 1523.5,559.4 1516.0,557.4 1508.5,557.8 1501.0,559.4 1493.5,557.9 1485.9,557.1 1478.4,557.0 1470.9,556.2 1463.4,556.1 1455.9,554.3 1448.4,555.8 1440.9,554.6 1433.4,553.3 1425.9,556.6 1418.4,553.1 1410.9,554.8 1403.3,551.2 1395.8,551.3 1388.3,552.0 1380.8,551.4 1373.3,553.0 1365.8,549.4 1358.3,548.0 1350.8,543.3 1343.3,547.0 1335.8,544.6 1328.3,545.5 1320.8,543.2 1313.2,540.0 1305.7,540.0 1298.2,541.2 1290.7,535.6 1283.2,531.8 1275.7,536.1 1268.2,533.0 1260.7,534.3 1253.2,530.9 1245.7,533.3 1238.2,523.6 1230.6,520.9 1223.1,517.1 1215.6,514.5 1208.1,516.1 1200.6,505.4 1193.1,506.3 1185.6,499.4 1178.1,494.8 1170.6,495.1 1163.1,479.7 1155.6,464.5 1148.0,468.8 1140.5,467.1 1133.0,469.4 1125.5,458.5 1118.0,447.9 1110.5,448.5 1103.0,444.8 1095.5,429.8 1088.0,429.9 1080.5,422.7 1073.0,414.4 1065.5,399.6 1057.9,402.2 1050.4,403.9 1042.9,394.3 1035.4,390.1 1027.9,370.8 1020.4,377.6 1012.9,360.7 1005.4,348.0 997.9,342.3 990.4,345.3 982.9,332.2 975.3,323.5 967.8,318.1 960.3,281.8" fill="#1f77b4" fill-opacity="0.3"/>
<polygon points="960.3,242.0 967.8,271.4 975.3,280.7 982.9,284.7 990.4,286.1 997.9,297.8 1005.4,303.0 1012.9,304.4 1020.4,307.5 1027.9,311.9 1035.4,308.3 1042.9,300.1 1050.4,302.8 1057.9,296.4 1065.5,291.5 1073.0,303.3 1080.5,308.8 1088.0,311.8 1095.5,310.0 1103.0,313.5 1110.5,310.0 1118.0,305.8 1125.5,314.0 1133.0,305.1 1140.5,308.2 1148.0,311.5 1155.6,312.2 1163.1,312.5 1170.6,312.2 1178.1,314.2 1185.6,316.4 1193.1,319.7 1200.6,318.5 1208.1,316.3 1215.6,315.8 1223.1,315.0 1230.6,316.4 1238.2,313.6 1245.7,311.3 1253.2,312.4 1260.7,308.8 1268.2,313.2 1275.7,314.5 1283.2,318.5 1290.7,315.0 1298.2,321.7 1305.7,323.2 1313.2,326.0 1320.8,321.2 1328.3,322.0 1335.8,329.7 1343.3,325.5 1350.8,321.8 1358.3,323.5 1365.8,328.8 1373.3,321.8 1380.8,329.6 1388.3,326.5 1395.8,323.5 1403.3,323.9 1410.9,330.1 1418.4,325.0 1425.9,322.8 1433.4,322.4 1440.9,323.9 1448.4,324.2 1455.9,325.2 1463.4,327.0 1470.9,332.3 1478.4,325.5 1485.9,324.9 1493.5,324.0 1501.0,325.0 1508.5,326.1 1516.0,327.5 1523.5,317.3 1531.0,324.4 1538.5,323.6 1546.0,324.2 1553.5,322.8 1561.0,319.2 1568.5,320.9 1576.1,321.8 1583.6,326.3 1591.1,319.6 1598.6,320.6 1606.1,321.7 1613.6,324.6 1621.1,325.4 1628.6,325.0 1636.1,324.5 1643.6,323.0 1651.1,329.4 1658.6,324.9 1666.2,326.7 1673.7,326.3 1681.2,329.9 1688.7,324.1 1696.2,332.5 1703.7,327.0 1703.7,335.3 1696.2,343.3 1688.7,330.7 1681.2,338.1 1673.7,334.8 1666.2,335.8 1658.6,333.2 1651.1,337.3 1643.6,329.2 1636.1,335.4 1628.6,331.9 1621.1,331.5 1613.6,335.9 1606.1,334.5 1598.6,326.6 1591.1,330.7 1583.6,331.3 1576.1,327.3 1568.5,325.3 1561.0,328.5 1553.5,331.6 1546.0,333.8 1538.5,332.8 1531.0,330.1 1523.5,325.1 1516.0,335.2 1508.5,330.5 1501.0,330.6 1493.5,332.3 1485.9,329.0 1478.4,334.4 1470.9,340.1 1463.4,336.4 1455.9,332.5 1448.4,333.6 1440.9,336.2 1433.4,332.5 1425.9,329.9 1418.4,333.6 1410.9,336.0 1403.3,337.2 1395.8,330.5 1388.3,331.7 1380.8,338.0 1373.3,331.9 1365.8,335.2 1358.3,335.6 1350.8,334.3 1343.3,333.4 1335.8,338.8 1328.3,328.6 1320.8,333.5 1313.2,333.4 1305.7,329.5 1298.2,330.5 1290.7,324.9 1283.2,323.4 1275.7,326.7 1268.2,324.4 1260.7,315.3 1253.2,321.1 1245.7,315.5 1238.2,322.4 1230.6,325.6 1223.1,324.2 1215.6,321.7 1208.1,321.2 1200.6,323.7 1193.1,330.9 1185.6,321.9 1178.1,320.7 1170.6,321.0 1163.1,321.5 1155.6,318.8 1148.0,316.5 1140.5,319.3 1133.0,314.2 1125.5,321.2 1118.0,314.5 1110.5,319.2 1103.0,320.8 1095.5,319.4 1088.0,316.6 1080.5,319.6 1073.0,308.0 1065.5,298.1 1057.9,307.4 1050.4,309.9 1042.9,314.5 1035.4,313.7 1027.9,317.4 1020.4,313.2 1012.9,315.5 1005.4,310.0 997.9,305.6 990.4,294.5 982.9,293.2 975.3,285.0 967.8,276.0 960.3,248.3" fill="#1f77b4" fill-opacity="0.3"/>
<polygon points="960.3,240.0 967.8,300.2 975.3,326.6 982.9,333.7 990.4,330.3 997.9,341.8 1005.4,342.2 1012.9,388.4 1020.4,400.9 1027.9,406.7 1035.4,414.6 1042.9,423.0 1050.4,433.0 1057.9,441.8 1065.5,444.7 1073.0,454.9 1080.5,465.5 1088.0,482.3 1095.5,486.8 1103.0,489.2 1110.5,502.9 1118.0,506.1 1125.5,512.0 1133.0,516.8 1140.5,520.5 1148.0,525.0 1155.6,530.5 1163.1,533.7 1170.6,539.7 1178.1,542.3 1185.6,546.5 1193.1,547.5 1200.6,552.2 1208.1,555.5 1215.6,557.5 1223.1,557.7 1230.6,560.8 1238.2,562.9 1245.7,565.2 1253.2,563.4 1260.7,565.5 1268.2,567.9 1275.7,568.5 1283.2,568.5 1290.7,568.8 1298.2,571.0 1305.7,569.8 1313.2,571.7 1320.8,571.0 1328.3,571.8 1335.8,570.5 1343.3,571.4 1350.8,572.6 1358.3,572.7 1365.8,571.1 1373.3,571.3 1380.8,572.7 1388.3,572.2 1395.8,571.9 1403.3,573.5 1410.9,573.2 1418.4,573.3 1425.9,572.9 1433.4,572.1 1440.9,572.2 1448.4,573.1 1455.9,571.8 1463.4,572.4 1470.9,572.6 1478.4,572.1 1485.9,572.8 1493.5,574.1 1501.0,572.9 1508.5,574.0 1516.0,574.1 1523.5,572.1 1531.0,572.8 1538.5,572.4 1546.0,573.6 1553.5,572.2 1561.0,573.3 1568.5,573.1 1576.1,572.9 1583.6,574.3 1591.1,573.6 1598.6,571.6 1606.1,574.4 1613.6,573.2 1621.1,574.3 1628.6,573.0 1636.1,572.9 1643.6,572.6 1651.1,572.7 1658.6,573.7 1666.2,573.8 1673.7,571.5 1681.2,574.0 1688.7,574.0 1696.2,573.7 1703.7,573.0 1703.7,575.8 1696.2,575.8 1688.7,575.8 1681.2,575.8 1673.7,575.8 1666.2,575.8 1658.6,575.8 1651.1,575.8 1643.6,575.7 1636.1,575.8 1628.6,575.8 1621.1,575.8 1613.6,575.8 1606.1,575.8 1598.6,575.8 1591.1,575.8 1583.6,575.8 1576.1,575.8 1568.5,575.8 1561.0,575.8 1553.5,575.8 1546.0,575.8 1538.5,575.8 1531.0,575.8 1523.5,575.8 1516.0,575.8 1508.5,575.8 1501.0,575.8 1493.5,575.8 1485.9,575.8 1478.4,575.8 1470.9,575.8 1463.4,575.8 1455.9,575.8 1448.4,575.8 1440.9,575.8 1433.4,575.8 1425.9,575.8 1418.4,575.7 1410.9,575.8 1403.3,575.8 1395.8,575.8 1388.3,575.8 1380.8,575.8 1373.3,575.8 1365.8,574.8 1358.3,575.8 1350.8,575.8 1343.3,575.8 1335.8,575.1 1328.3,575.8 1320.8,574.9 1313.2,575.6 1305.7,573.8 1298.2,574.6 1290.7,573.9 1283.2,573.3 1275.7,571.5 1268.2,573.7 1260.7,570.3 1253.2,568.8 1245.7,567.6 1238.2,567.3 1230.6,565.4 1223.1,565.3 1215.6,561.4 1208.1,559.5 1200.6,557.3 1193.1,554.4 1185.6,551.5 1178.1,546.0 1170.6,544.5 1163.1,539.7 1155.6,535.9 1148.0,529.6 1140.5,525.6 1133.0,523.9 1125.5,516.7 1118.0,511.1 1110.5,509.5 1103.0,498.4 1095.5,490.7 1088.0,489.8 1080.5,474.7 1073.0,462.5 1065.5,457.1 1057.9,448.8 1050.4,439.6 1042.9,439.6 1035.4,424.7 1027.9,427.0 1020.4,415.5 1012.9,410.2 1005.4,356.5 997.9,372.6 990.4,357.8 982.9,370.4 975.3,349.7 967.8,321.2 960.3,282.0" fill="#bcbd22" fill-opacity="0.3"/>
<polygon points="960.3,239.3 967.8,286.3 975.3,304.6 982.9,323.6 990.4,330.2 997.9,333.2 1005.4,333.3 1012.9,332.5 1020.4,332.9 1027.9,336.4 1035.4,339.4 1042.9,341.4 1050.4,344.1 1057.9,342.5 1065.5,345.1 1073.0,344.7 1080.5,347.1 1088.0,349.1 1095.5,350.9 1103.0,349.6 1110.5,348.8 1118.0,350.3 1125.5,351.1 1133.0,350.5 1140.5,349.9 1148.0,349.1 1155.6,347.3 1163.1,346.5 1170.6,351.9 1178.1,349.6 1185.6,344.0 1193.1,350.4 1200.6,348.6 1208.1,349.6 1215.6,345.7 1223.1,347.4 1230.6,347.6 1238.2,344.6 1245.7,343.6 1253.2,346.7 1260.7,349.7 1268.2,348.7 1275.7,347.5 1283.2,344.0 1290.7,346.3 1298.2,346.4 1305.7,345.4 1313.2,343.5 1320.8,346.8 1328.3,344.8 1335.8,343.5 1343.3,347.4 1350.8,342.3 1358.3,346.5 1365.8,347.6 1373.3,340.4 1380.8,341.3 1388.3,346.5 1395.8,343.2 1403.3,342.1 1410.9,347.7 1418.4,345.3 1425.9,349.2 1433.4,350.2 1440.9,343.5 1448.4,343.8 1455.9,346.4 1463.4,344.6 1470.9,347.4 1478.4,345.0 1485.9,343.7 1493.5,340.6 1501.0,339.4 1508.5,340.6 1516.0,342.8 1523.5,345.0 1531.0,343.5 1538.5,342.9 1546.0,344.8 1553.5,344.2 1561.0,344.3 1568.5,335.5 1576.1,343.4 1583.6,342.2 1591.1,341.5 1598.6,343.9 1606.1,342.6 1613.6,346.1 1621.1,341.9 1628.6,343.0 1636.1,345.1 1643.6,344.3 1651.1,342.3 1658.6,340.9 1666.2,344.0 1673.7,344.9 1681.2,345.2 1688.7,343.4 1696.2,341.5 1703.7,339.7 1703.7,349.3 1696.2,345.8 1688.7,348.6 1681.2,355.9 1673.7,349.5 1666.2,351.9 1658.6,346.4 1651.1,348.4 1643.6,350.3 1636.1,352.1 1628.6,348.4 1621.1,351.3 1613.6,352.9 1606.1,350.6 1598.6,351.5 1591.1,349.4 1583.6,351.6 1576.1,348.0 1568.5,344.1 1561.0,351.3 1553.5,352.9 1546.0,350.3 1538.5,354.0 1531.0,350.9 1523.5,350.7 1516.0,349.3 1508.5,353.4 1501.0,349.5 1493.5,353.4 1485.9,350.1 1478.4,350.1 1470.9,354.5 1463.4,352.0 1455.9,352.7 1448.4,351.1 1440.9,352.5 1433.4,357.2 1425.9,354.2 1418.4,354.2 1410.9,351.6 1403.3,351.4 1395.8,352.0 1388.3,354.7 1380.8,351.1 1373.3,352.4 1365.8,353.4 1358.3,351.1 1350.8,351.4 1343.3,352.0 1335.8,351.8 1328.3,355.1 1320.8,355.7 1313.2,351.0 1305.7,351.5 1298.2,351.2 1290.7,355.7 1283.2,352.2 1275.7,353.8 1268.2,353.4 1260.7,355.0 1253.2,353.6 1245.7,351.5 1238.2,353.3 1230.6,357.0 1223.1,352.9 1215.6,352.6 1208.1,355.8 1200.6,353.2 1193.1,354.8 1185.6,351.5 1178.1,355.1 1170.6,355.9 1163.1,356.6 1155.6,352.1 1148.0,354.8 1140.5,356.7 1133.0,357.0 1125.5,356.2 1118.0,355.2 1110.5,357.7 1103.0,355.8 1095.5,356.4 1088.0,355.4 1080.5,357.2 1073.0,349.7 1065.5,350.1 1057.9,350.4 1050.4,350.2 1042.9,348.1 1035.4,344.3 1027.9,341.6 1020.4,345.2 1012.9,342.5 1005.4,340.9 997.9,338.7 990.4,339.6 982.9,328.4 975.3,315.9 967.8,293.1 960.3,249.3" fill="#bcbd22" fill-opacity="0.3"/>
<polygon points="960.3,246.1 967.8,275.9 975.3,297.0 982.9,314.2 990.4,324.4 997.9,315.4 1005.4,324.9 1012.9,346.7 1020.4,361.3 1027.9,362.5 1035.4,375.0 1042.9,383.1 1050.4,397.8 1057.9,396.4 1065.5,399.4 1073.0,404.0 1080.5,414.1 1088.0,424.1 1095.5,426.1 1103.0,437.3 1110.5,441.4 1118.0,443.6 1125.5,451.3 1133.0,455.3 1140.5,460.2 1148.0,463.1 1155.6,468.2 1163.1,473.9 1170.6,480.6 1178.1,481.5 1185.6,490.1 1193.1,490.7 1200.6,496.6 1208.1,504.7 1215.6,508.0 1223.1,511.4 1230.6,515.2 1238.2,518.2 1245.7,518.0 1253.2,519.7 1260.7,525.5 1268.2,525.4 1275.7,524.5 1283.2,526.5 1290.7,529.1 1298.2,533.7 1305.7,536.5 1313.2,534.7 1320.8,536.5 1328.3,538.8 1335.8,537.6 1343.3,538.2 1350.8,541.4 1358.3,540.3 1365.8,543.0 1373.3,542.7 1380.8,544.0 1388.3,545.4 1395.8,546.3 1403.3,547.2 1410.9,545.8 1418.4,546.5 1425.9,547.1 1433.4,545.1 1440.9,547.9 1448.4,545.5 1455.9,549.4 1463.4,550.2 1470.9,549.7 1478.4,550.4 1485.9,549.8 1493.5,550.8 1501.0,549.6 1508.5,550.1 1516.0,553.4 1523.5,552.9 1531.0,553.7 1538.5,552.6 1546.0,552.8 1553.5,554.0 1561.0,553.1 1568.5,554.1 1576.1,555.1 1583.6,555.5 1591.1,551.5 1598.6,552.6 1606.1,554.4 1613.6,555.2 1621.1,554.6 1628.6,553.4 1636.1,552.0 1643.6,554.2 1651.1,554.3 1658.6,554.4 1666.2,552.5 1673.7,557.6 1681.2,554.2 1688.7,554.9 1696.2,556.8 1703.7,556.2 1703.7,564.6 1696.2,561.5 1688.7,562.2 1681.2,563.6 1673.7,562.8 1666.2,561.4 1658.6,559.0 1651.1,560.8 1643.6,559.3 1636.1,562.4 1628.6,561.6 1621.1,562.4 1613.6,561.9 1606.1,561.3 1598.6,560.7 1591.1,559.8 1583.6,561.3 1576.1,559.0 1568.5,558.9 1561.0,562.7 1553.5,560.3 1546.0,558.9 1538.5,556.8 1531.0,558.4 1523.5,558.3 1516.0,559.5 1508.5,558.4 1501.0,557.6 1493.5,557.1 1485.9,557.7 1478.4,554.7 1470.9,554.1 1463.4,558.8 1455.9,555.4 1448.4,555.7 1440.9,554.5 1433.4,557.8 1425.9,555.0 1418.4,553.5 1410.9,550.9 1403.3,551.3 1395.8,550.8 1388.3,550.8 1380.8,553.3 1373.3,552.8 1365.8,547.0 1358.3,546.8 1350.8,549.3 1343.3,544.1 1335.8,542.4 1328.3,542.4 1320.8,540.6 1313.2,540.2 1305.7,542.0 1298.2,538.5 1290.7,538.9 1283.2,533.8 1275.7,537.6 1268.2,530.3 1260.7,531.0 1253.2,526.9 1245.7,524.8 1238.2,524.8 1230.6,519.0 1223.1,517.3 1215.6,514.8 1208.1,510.2 1200.6,504.8 1193.1,502.1 1185.6,496.3 1178.1,490.9 1170.6,485.9 1163.1,480.9 1155.6,475.3 1148.0,471.5 1140.5,464.1 1133.0,460.8 1125.5,456.5 1118.0,449.5 1110.5,448.4 1103.0,445.4 1095.5,436.0 1088.0,434.9 1080.5,420.1 1073.0,411.4 1065.5,406.3 1057.9,409.4 1050.4,404.4 1042.9,393.4 1035.4,387.3 1027.9,368.8 1020.4,371.2 1012.9,357.2 1005.4,346.4 997.9,330.9 990.4,351.0 982.9,328.0 975.3,319.1 967.8,299.6 960.3,274.7" fill="#2ca02c" fill-opacity="0.3"/>
<polygon points="960.3,232.6 967.8,259.6 975.3,271.0 982.9,273.8 990.4,280.5 997.9,285.4 1005.4,291.5 1012.9,289.8 1020.4,284.2 1027.9,287.2 1035.4,291.1 1042.9,297.5 1050.4,303.7 1057.9,293.4 1065.5,295.1 1073.0,298.0 1080.5,301.7 1088.0,301.3 1095.5,305.0 1103.0,308.2 1110.5,305.5 1118.0,309.2 1125.5,302.2 1133.0,306.5 1140.5,308.0 1148.0,302.0 1155.6,305.1 1163.1,313.9 1170.6,314.3 1178.1,316.3 1185.6,310.2 1193.1,313.1 1200.6,316.4 1208.1,316.1 1215.6,311.7 1223.1,312.2 1230.6,314.9 1238.2,318.5 1245.7,315.0 1253.2,319.3 1260.7,319.0 1268.2,316.5 1275.7,316.7 1283.2,322.4 1290.7,316.2 1298.2,314.9 1305.7,318.0 1313.2,319.3 1320.8,314.0 1328.3,320.4 1335.8,320.6 1343.3,317.8 1350.8,324.9 1358.3,314.5 1365.8,322.7 1373.3,321.7 1380.8,318.7 1388.3,320.2 1395.8,318.1 1403.3,322.6 1410.9,326.0 1418.4,323.7 1425.9,315.1 1433.4,317.6 1440.9,314.4 1448.4,317.4 1455.9,319.0 1463.4,317.7 1470.9,314.2 1478.4,321.6 1485.9,321.6 1493.5,322.3 1501.0,316.6 1508.5,320.5 1516.0,320.8 1523.5,327.3 1531.0,323.5 1538.5,323.8 1546.0,318.3 1553.5,324.2 1561.0,322.7 1568.5,320.2 1576.1,323.0 1583.6,321.5 1591.1,321.6 1598.6,322.8 1606.1,321.7 1613.6,326.7 1621.1,327.4 1628.6,324.6 1636.1,322.2 1643.6,320.7 1651.1,326.8 1658.6,325.1 1666.2,323.4 1673.7,324.4 1681.2,322.2 1688.7,325.0 1696.2,326.0 1703.7,326.7 1703.7,334.4 1696.2,338.8 1688.7,335.4 1681.2,331.0 1673.7,336.4 1666.2,336.7 1658.6,334.1 1651.1,336.3 1643.6,333.0 1636.1,332.8 1628.6,338.0 1621.1,338.8 1613.6,333.1 1606.1,334.0 1598.6,330.8 1591.1,330.8 1583.6,337.4 1576.1,335.5 1568.5,329.7 1561.0,333.1 1553.5,332.1 1546.0,331.4 1538.5,329.6 1531.0,331.5 1523.5,334.6 1516.0,328.7 1508.5,329.2 1501.0,323.6 1493.5,335.1 1485.9,331.2 1478.4,330.4 1470.9,323.4 1463.4,331.3 1455.9,332.6 1448.4,324.8 1440.9,327.6 1433.4,328.2 1425.9,326.6 1418.4,334.1 1410.9,333.7 1403.3,329.3 1395.8,331.9 1388.3,326.5 1380.8,331.0 1373.3,335.2 1365.8,329.2 1358.3,331.1 1350.8,330.2 1343.3,326.3 1335.8,326.1 1328.3,328.1 1320.8,334.1 1313.2,330.8 1305.7,327.9 1298.2,324.6 1290.7,327.7 1283.2,332.9 1275.7,323.3 1268.2,326.0 1260.7,324.7 1253.2,325.0 1245.7,330.0 1238.2,329.7 1230.6,323.3 1223.1,322.2 1215.6,323.7 1208.1,328.0 1200.6,323.6 1193.1,328.2 1185.6,321.8 1178.1,323.2 1170.6,322.4 1163.1,323.0 1155.6,314.1 1148.0,316.1 1140.5,319.3 1133.0,315.9 1125.5,312.4 1118.0,316.4 1110.5,311.7 1103.0,316.2 1095.5,313.3 1088.0,313.7 1080.5,310.9 1073.0,309.5 1065.5,303.3 1057.9,309.0 1050.4,312.0 1042.9,306.3 1035.4,299.2 1027.9,294.2 1020.4,294.0 1012.9,295.9 1005.4,298.8 997.9,294.8 990.4,292.0 982.9,286.6 975.3,277.7 967.8,267.1 960.3,240.7" fill="#2ca02c" fill-opacity="0.3"/>
<polygon points="960.3,237.6 967.8,278.4 975.3,302.7 982.9,299.7 990.4,328.4 997.9,338.6 1005.4,339.9 1012.9,344.9 1020.4,354.6 1027.9,329.5 1035.4,372.1 1042.9,381.2 1050.4,398.1 1057.9,397.1 1065.5,394.2 1073.0,405.8 1080.5,411.0 1088.0,425.6 1095.5,420.5 1103.0,424.0 1110.5,432.8 1118.0,434.2 1125.5,432.7 1133.0,443.6 1140.5,447.1 1148.0,441.3 1155.6,430.1 1163.1,455.7 1170.6,459.3 1178.1,326.3 1185.6,478.1 1193.1,471.8 1200.6,478.2 1208.1,479.3 1215.6,486.6 1223.1,495.5 1230.6,484.7 1238.2,476.3 1245.7,497.0 1253.2,495.4 1260.7,491.2 1268.2,499.9 1275.7,509.6 1283.2,508.5 1290.7,505.0 1298.2,500.3 1305.7,514.7 1313.2,480.8 1320.8,488.7 1328.3,518.3 1335.8,520.0 1343.3,517.0 1350.8,518.6 1358.3,510.3 1365.8,519.4 1373.3,517.5 1380.8,536.9 1388.3,527.7 1395.8,533.1 1403.3,524.4 1410.9,526.6 1418.4,525.6 1425.9,532.0 1433.4,528.6 1440.9,544.1 1448.4,534.3 1455.9,528.8 1463.4,543.9 1470.9,549.1 1478.4,542.9 1485.9,542.4 1493.5,546.6 1501.0,552.0 1508.5,544.4 1516.0,545.4 1523.5,552.9 1531.0,541.3 1538.5,539.1 1546.0,545.7 1553.5,548.6 1561.0,549.6 1568.5,558.8 1576.1,558.0 1583.6,554.6 1591.1,560.4 1598.6,534.3 1606.1,533.2 1613.6,559.9 1621.1,565.6 1628.6,560.9 1636.1,566.4 1643.6,563.6 1651.1,549.9 1658.6,562.1 1666.2,539.2 1673.7,560.8 1681.2,552.4 1688.7,565.3 1696.2,564.7 1703.7,567.3 1703.7,575.8 1696.2,575.8 1688.7,575.8 1681.2,575.8 1673.7,575.8 1666.2,574.0 1658.6,574.5 1651.1,573.1 1643.6,575.5 1636.1,575.8 1628.6,575.8 1621.1,575.8 1613.6,575.8 1606.1,575.8 1598.6,572.3 1591.1,575.8 1583.6,569.6 1576.1,574.1 1568.5,571.6 1561.0,573.3 1553.5,574.0 1546.0,575.8 1538.5,563.3 1531.0,562.0 1523.5,568.6 1516.0,558.3 1508.5,564.9 1501.0,570.3 1493.5,564.0 1485.9,561.0 1478.4,563.3 1470.9,567.1 1463.4,561.1 1455.9,557.0 1448.4,551.8 1440.9,563.5 1433.4,542.4 1425.9,551.1 1418.4,559.1 1410.9,544.2 1403.3,544.2 1395.8,549.7 1388.3,553.6 1380.8,556.4 1373.3,526.3 1365.8,532.0 1358.3,534.4 1350.8,534.1 1343.3,537.5 1335.8,536.0 1328.3,532.7 1320.8,543.1 1313.2,535.7 1305.7,531.4 1298.2,522.0 1290.7,521.9 1283.2,526.6 1275.7,522.1 1268.2,520.2 1260.7,509.8 1253.2,510.2 1245.7,519.8 1238.2,487.8 1230.6,515.5 1223.1,505.0 1215.6,497.7 1208.1,500.3 1200.6,513.2 1193.1,484.8 1185.6,495.2 1178.1,343.8 1170.6,480.4 1163.1,468.1 1155.6,467.3 1148.0,467.8 1140.5,463.7 1133.0,460.3 1125.5,457.5 1118.0,450.6 1110.5,451.9 1103.0,450.7 1095.5,443.4 1088.0,440.8 1080.5,438.6 1073.0,426.0 1065.5,415.0 1057.9,416.6 1050.4,412.9 1042.9,403.9 1035.4,398.7 1027.9,387.4 1020.4,384.6 1012.9,377.9 1005.4,375.8 997.9,383.7 990.4,368.8 982.9,363.8 975.3,346.0 967.8,326.0 960.3,300.7" fill="#e377c2" fill-opacity="0.3"/>
<polygon points="960.3,239.4 967.8,269.2 975.3,295.1 982.9,306.7 990.4,307.2 997.9,311.7 1005.4,315.0 1012.9,316.3 1020.4,317.8 1027.9,312.3 1035.4,321.2 1042.9,324.8 1050.4,325.5 1057.9,327.6 1065.5,327.7 1073.0,329.2 1080.5,328.6 1088.0,333.0 1095.5,331.5 1103.0,331.6 1110.5,334.4 1118.0,327.9 1125.5,331.5 1133.0,334.9 1140.5,331.3 1148.0,345.4 1155.6,336.8 1163.1,343.4 1170.6,340.0 1178.1,315.2 1185.6,342.0 1193.1,347.1 1200.6,350.0 1208.1,348.9 1215.6,349.3 1223.1,348.5 1230.6,349.4 1238.2,346.5 1245.7,347.7 1253.2,350.9 1260.7,354.8 1268.2,352.0 1275.7,351.1 1283.2,355.0 1290.7,349.6 1298.2,352.1 1305.7,348.2 1313.2,350.2 1320.8,354.8 1328.3,354.5 1335.8,356.8 1343.3,352.2 1350.8,359.0 1358.3,350.2 1365.8,350.3 1373.3,355.4 1380.8,356.6 1388.3,352.7 1395.8,353.4 1403.3,354.0 1410.9,357.3 1418.4,358.7 1425.9,356.4 1433.4,356.8 1440.9,355.3 1448.4,357.4 1455.9,354.3 1463.4,357.6 1470.9,356.5 1478.4,356.0 1485.9,358.1 1493.5,352.8 1501.0,358.5 1508.5,356.2 1516.0,359.4 1523.5,357.3 1531.0,360.7 1538.5,352.2 1546.0,361.3 1553.5,355.0 1561.0,357.9 1568.5,352.9 1576.1,356.3 1583.6,357.7 1591.1,351.1 1598.6,352.7 1606.1,359.4 1613.6,357.6 1621.1,359.8 1628.6,357.3 1636.1,360.2 1643.6,357.3 1651.1,359.3 1658.6,349.2 1666.2,352.9 1673.7,355.3 1681.2,359.6 1688.7,356.1 1696.2,361.4 1703.7,357.7 1703.7,371.4 1696.2,374.4 1688.7,369.8 1681.2,372.7 1673.7,367.1 1666.2,367.9 1658.6,367.0 1651.1,368.6 1643.6,369.2 1636.1,372.4 1628.6,369.9 1621.1,370.3 1613.6,368.1 1606.1,368.2 1598.6,372.5 1591.1,371.4 1583.6,372.1 1576.1,371.2 1568.5,363.9 1561.0,377.8 1553.5,367.6 1546.0,377.3 1538.5,365.0 1531.0,375.4 1523.5,375.0 1516.0,367.2 1508.5,368.0 1501.0,369.2 1493.5,361.7 1485.9,369.2 1478.4,370.3 1470.9,370.8 1463.4,372.1 1455.9,366.5 1448.4,368.7 1440.9,369.7 1433.4,369.0 1425.9,372.3 1418.4,368.9 1410.9,370.6 1403.3,367.3 1395.8,366.0 1388.3,370.2 1380.8,365.2 1373.3,369.2 1365.8,363.0 1358.3,363.8 1350.8,375.1 1343.3,364.6 1335.8,374.6 1328.3,366.7 1320.8,364.0 1313.2,360.1 1305.7,367.2 1298.2,362.9 1290.7,363.6 1283.2,367.2 1275.7,359.4 1268.2,364.1 1260.7,371.6 1253.2,362.9 1245.7,364.8 1238.2,359.0 1230.6,366.3 1223.1,357.8 1215.6,362.3 1208.1,360.4 1200.6,360.4 1193.1,361.7 1185.6,358.8 1178.1,331.1 1170.6,352.9 1163.1,351.5 1155.6,350.8 1148.0,354.8 1140.5,345.8 1133.0,351.6 1125.5,347.1 1118.0,349.4 1110.5,351.8 1103.0,347.4 1095.5,344.4 1088.0,343.5 1080.5,341.6 1073.0,340.9 1065.5,337.5 1057.9,344.7 1050.4,336.7 1042.9,339.1 1035.4,337.8 1027.9,333.1 1020.4,332.9 1012.9,330.8 1005.4,335.7 997.9,323.0 990.4,324.6 982.9,316.4 975.3,307.2 967.8,288.3 960.3,251.0" fill="#e377c2" fill-opacity="0.3"/>
<polygon points="960.3,185.4 967.8,247.4 975.3,264.9 982.9,278.2 990.4,234.7 997.9,285.7 1005.4,260.7 1012.9,282.7 1020.4,312.9 1027.9,326.5 1035.4,304.0 1042.9,324.2 1050.4,317.5 1057.9,343.0 1065.5,342.6 1073.0,345.4 1080.5,357.2 1088.0,356.7 1095.5,342.1 1103.0,350.4 1110.5,371.8 1118.0,385.6 1125.5,376.6 1133.0,356.6 1140.5,391.1 1148.0,395.2 1155.6,393.3 1163.1,360.9 1170.6,407.9 1178.1,242.2 1185.6,391.3 1193.1,399.6 1200.6,411.2 1208.1,420.1 1215.6,419.9 1223.1,425.7 1230.6,395.1 1238.2,402.0 1245.7,416.1 1253.2,435.2 1260.7,440.9 1268.2,422.3 1275.7,416.1 1283.2,447.8 1290.7,440.7 1298.2,354.7 1305.7,456.6 1313.2,445.9 1320.8,449.1 1328.3,456.9 1335.8,463.5 1343.3,458.7 1350.8,458.6 1358.3,450.4 1365.8,442.6 1373.3,465.7 1380.8,446.5 1388.3,439.9 1395.8,475.2 1403.3,464.8 1410.9,468.9 1418.4,469.8 1425.9,476.2 1433.4,449.1 1440.9,475.9 1448.4,472.0 1455.9,475.9 1463.4,472.6 1470.9,489.6 1478.4,475.5 1485.9,483.0 1493.5,471.2 1501.0,490.5 1508.5,491.8 1516.0,462.7 1523.5,491.7 1531.0,496.0 1538.5,467.8 1546.0,489.8 1553.5,499.2 1561.0,509.2 1568.5,492.2 1576.1,493.2 1583.6,512.0 1591.1,497.4 1598.6,491.7 1606.1,485.5 1613.6,473.5 1621.1,492.7 1628.6,511.1 1636.1,489.9 1643.6,469.1 1651.1,475.1 1658.6,516.8 1666.2,484.0 1673.7,508.9 1681.2,497.2 1688.7,519.9 1696.2,519.6 1703.7,518.4 1703.7,540.2 1696.2,554.7 1688.7,542.1 1681.2,537.9 1673.7,536.9 1666.2,540.5 1658.6,543.7 1651.1,530.3 1643.6,524.2 1636.1,549.6 1628.6,541.7 1621.1,520.3 1613.6,540.1 1606.1,534.3 1598.6,539.7 1591.1,516.0 1583.6,534.9 1576.1,524.4 1568.5,523.5 1561.0,528.2 1553.5,535.2 1546.0,520.3 1538.5,515.2 1531.0,518.9 1523.5,514.9 1516.0,490.4 1508.5,519.9 1501.0,525.6 1493.5,497.0 1485.9,502.0 1478.4,500.7 1470.9,507.0 1463.4,499.0 1455.9,494.2 1448.4,495.3 1440.9,497.0 1433.4,501.5 1425.9,501.8 1418.4,488.2 1410.9,500.4 1403.3,503.7 1395.8,501.6 1388.3,503.1 1380.8,485.2 1373.3,489.7 1365.8,479.0 1358.3,489.4 1350.8,480.6 1343.3,472.1 1335.8,483.1 1328.3,496.4 1320.8,471.1 1313.2,460.8 1305.7,470.3 1298.2,428.3 1290.7,458.0 1283.2,470.2 1275.7,458.8 1268.2,461.4 1260.7,460.3 1253.2,467.3 1245.7,447.3 1238.2,430.6 1230.6,458.2 1223.1,463.7 1215.6,449.6 1208.1,443.9 1200.6,450.0 1193.1,441.8 1185.6,460.5 1178.1,365.0 1170.6,450.4 1163.1,413.7 1155.6,413.7 1148.0,418.6 1140.5,410.8 1133.0,408.3 1125.5,401.2 1118.0,408.1 1110.5,394.9 1103.0,390.8 1095.5,374.1 1088.0,380.8 1080.5,384.0 1073.0,386.6 1065.5,368.7 1057.9,373.0 1050.4,350.7 1042.9,371.9 1035.4,358.7 1027.9,371.6 1020.4,375.4 1012.9,325.4 1005.4,295.8 997.9,313.4 990.4,327.7 982.9,313.2 975.3,305.2 967.8,303.4 960.3,240.0" fill="#ff7f0e" fill-opacity="0.3"/>
<polygon points="960.3,197.1 967.8,237.2 975.3,249.1 982.9,252.1 990.4,240.1 997.9,236.6 1005.4,221.3 1012.9,246.6 1020.4,271.0 1027.9,273.6 1035.4,250.7 1042.9,270.7 1050.4,255.6 1057.9,285.5 1065.5,260.0 1073.0,273.2 1080.5,279.1 1088.0,278.6 1095.5,255.0 1103.0,270.4 1110.5,261.1 1118.0,293.6 1125.5,269.4 1133.0,269.7 1140.5,279.9 1148.0,280.0 1155.6,285.7 1163.1,287.4 1170.6,295.9 1178.1,148.7 1185.6,289.2 1193.1,282.9 1200.6,303.9 1208.1,286.5 1215.6,287.6 1223.1,280.4 1230.6,285.4 1238.2,275.1 1245.7,286.0 1253.2,266.9 1260.7,290.9 1268.2,287.1 1275.7,306.4 1283.2,306.1 1290.7,285.3 1298.2,240.3 1305.7,300.8 1313.2,269.8 1320.8,285.5 1328.3,300.2 1335.8,294.3 1343.3,289.0 1350.8,296.0 1358.3,293.4 1365.8,292.2 1373.3,300.9 1380.8,294.6 1388.3,300.2 1395.8,303.5 1403.3,309.2 1410.9,298.1 1418.4,300.1 1425.9,305.2 1433.4,301.0 1440.9,311.1 1448.4,294.6 1455.9,295.5 1463.4,296.0 1470.9,303.1 1478.4,274.1 1485.9,305.0 1493.5,304.4 1501.0,298.6 1508.5,294.5 1516.0,280.5 1523.5,294.6 1531.0,294.8 1538.5,303.0 1546.0,305.9 1553.5,311.4 1561.0,304.4 1568.5,294.0 1576.1,312.0 1583.6,305.4 1591.1,307.7 1598.6,302.8 1606.1,309.4 1613.6,312.1 1621.1,306.8 1628.6,298.3 1636.1,313.6 1643.6,306.7 1651.1,308.0 1658.6,302.0 1666.2,316.7 1673.7,307.2 1681.2,311.8 1688.7,319.5 1696.2,316.8 1703.7,307.7 1703.7,331.8 1696.2,331.5 1688.7,331.4 1681.2,333.8 1673.7,333.0 1666.2,343.3 1658.6,325.4 1651.1,330.4 1643.6,334.7 1636.1,327.8 1628.6,323.1 1621.1,318.1 1613.6,337.7 1606.1,339.6 1598.6,329.6 1591.1,325.8 1583.6,331.2 1576.1,326.0 1568.5,320.8 1561.0,328.2 1553.5,333.0 1546.0,320.9 1538.5,316.1 1531.0,314.4 1523.5,321.4 1516.0,306.6 1508.5,327.3 1501.0,326.9 1493.5,321.4 1485.9,319.3 1478.4,314.5 1470.9,323.0 1463.4,318.0 1455.9,315.1 1448.4,333.6 1440.9,326.1 1433.4,318.5 1425.9,328.3 1418.4,311.6 1410.9,314.8 1403.3,321.2 1395.8,318.3 1388.3,322.7 1380.8,318.2 1373.3,320.2 1365.8,304.8 1358.3,321.1 1350.8,312.8 1343.3,325.9 1335.8,320.1 1328.3,316.5 1320.8,302.3 1313.2,302.7 1305.7,313.7 1298.2,295.0 1290.7,301.4 1283.2,337.2 1275.7,325.0 1268.2,312.1 1260.7,309.0 1253.2,309.5 1245.7,304.6 1238.2,300.3 1230.6,317.7 1223.1,305.5 1215.6,310.5 1208.1,308.6 1200.6,321.0 1193.1,301.3 1185.6,319.4 1178.1,243.4 1170.6,308.1 1163.1,299.4 1155.6,308.6 1148.0,304.2 1140.5,300.0 1133.0,308.1 1125.5,293.2 1118.0,308.2 1110.5,299.9 1103.0,288.3 1095.5,281.3 1088.0,301.7 1080.5,299.9 1073.0,295.4 1065.5,286.6 1057.9,304.1 1050.4,273.4 1042.9,283.9 1035.4,267.9 1027.9,287.1 1020.4,291.0 1012.9,266.9 1005.4,237.2 997.9,267.0 990.4,266.4 982.9,272.7 975.3,267.9 967.8,251.7 960.3,224.3" fill="#ff7f0e" fill-opacity="0.3"/>
<polygon points="960.3,165.7 967.8,195.9 975.3,235.6 982.9,302.2 990.4,202.1 997.9,303.8 1005.4,321.4 1012.9,305.6 1020.4,333.6 1027.9,332.2 1035.4,347.4 1042.9,364.3 1050.4,367.8 1057.9,362.0 1065.5,349.5 1073.0,370.5 1080.5,379.3 1088.0,364.4 1095.5,386.7 1103.0,377.7 1110.5,383.2 1118.0,383.4 1125.5,402.1 1133.0,386.8 1140.5,402.5 1148.0,396.3 1155.6,401.0 1163.1,404.8 1170.6,414.9 1178.1,400.4 1185.6,423.9 1193.1,413.5 1200.6,432.8 1208.1,424.1 1215.6,434.9 1223.1,446.5 1230.6,433.0 1238.2,397.1 1245.7,431.7 1253.2,438.6 1260.7,450.8 1268.2,438.8 1275.7,435.5 1283.2,442.3 1290.7,449.1 1298.2,417.2 1305.7,457.3 1313.2,454.0 1320.8,451.8 1328.3,448.0 1335.8,456.4 1343.3,450.8 1350.8,467.6 1358.3,473.3 1365.8,456.9 1373.3,463.7 1380.8,475.6 1388.3,461.8 1395.8,457.3 1403.3,453.4 1410.9,471.2 1418.4,464.8 1425.9,467.6 1433.4,470.7 1440.9,461.9 1448.4,471.5 1455.9,467.8 1463.4,459.9 1470.9,468.1 1478.4,485.4 1485.9,477.1 1493.5,478.3 1501.0,479.9 1508.5,494.2 1516.0,492.2 1523.5,486.1 1531.0,494.2 1538.5,487.8 1546.0,478.4 1553.5,493.1 1561.0,484.9 1568.5,491.6 1576.1,467.0 1583.6,480.3 1591.1,490.1 1598.6,498.0 1606.1,494.6 1613.6,491.3 1621.1,475.5 1628.6,494.2 1636.1,495.3 1643.6,492.1 1651.1,495.4 1658.6,471.6 1666.2,508.4 1673.7,501.4 1681.2,477.5 1688.7,497.7 1696.2,507.6 1703.7,500.0 1703.7,521.0 1696.2,536.2 1688.7,533.6 1681.2,518.5 1673.7,512.2 1666.2,524.3 1658.6,525.3 1651.1,512.2 1643.6,515.4 1636.1,529.5 1628.6,504.8 1621.1,522.3 1613.6,511.7 1606.1,510.0 1598.6,524.2 1591.1,514.0 1583.6,493.9 1576.1,518.1 1568.5,505.8 1561.0,526.7 1553.5,531.5 1546.0,523.7 1538.5,510.7 1531.0,511.4 1523.5,513.6 1516.0,514.0 1508.5,514.3 1501.0,501.9 1493.5,506.4 1485.9,512.1 1478.4,504.8 1470.9,494.0 1463.4,494.6 1455.9,489.3 1448.4,496.5 1440.9,512.3 1433.4,498.0 1425.9,492.3 1418.4,478.5 1410.9,494.6 1403.3,472.5 1395.8,482.4 1388.3,481.1 1380.8,491.6 1373.3,494.0 1365.8,482.2 1358.3,485.4 1350.8,485.7 1343.3,483.4 1335.8,477.6 1328.3,473.0 1320.8,474.5 1313.2,472.1 1305.7,473.7 1298.2,459.7 1290.7,465.9 1283.2,459.3 1275.7,448.5 1268.2,456.3 1260.7,462.8 1253.2,461.2 1245.7,453.2 1238.2,431.5 1230.6,453.0 1223.1,463.2 1215.6,455.8 1208.1,445.4 1200.6,456.6 1193.1,433.7 1185.6,449.8 1178.1,439.6 1170.6,434.7 1163.1,423.6 1155.6,413.3 1148.0,426.6 1140.5,430.6 1133.0,407.1 1125.5,427.0 1118.0,412.7 1110.5,419.6 1103.0,412.5 1095.5,410.0 1088.0,378.0 1080.5,394.6 1073.0,385.1 1065.5,395.3 1057.9,381.7 1050.4,391.0 1042.9,385.0 1035.4,367.2 1027.9,370.9 1020.4,360.7 1012.9,353.2 1005.4,342.5 997.9,327.0 990.4,311.3 982.9,315.7 975.3,311.2 967.8,290.4 960.3,269.6" fill="#000000" fill-opacity="0.3"/>
<polygon points="960.3,154.3 967.8,186.5 975.3,214.0 982.9,245.9 990.4,237.7 997.9,260.8 1005.4,258.9 1012.9,292.0 1020.4,285.4 1027.9,288.7 1035.4,286.4 1042.9,314.2 1050.4,303.6 1057.9,291.8 1065.5,305.0 1073.0,294.4 1080.5,287.2 1088.0,294.6 1095.5,315.0 1103.0,301.6 1110.5,297.4 1118.0,311.8 1125.5,321.4 1133.0,307.9 1140.5,320.6 1148.0,314.9 1155.6,314.0 1163.1,308.6 1170.6,319.2 1178.1,286.4 1185.6,331.7 1193.1,316.2 1200.6,324.9 1208.1,328.0 1215.6,326.2 1223.1,318.8 1230.6,331.4 1238.2,318.2 1245.7,294.4 1253.2,331.4 1260.7,330.5 1268.2,329.3 1275.7,293.1 1283.2,330.5 1290.7,331.7 1298.2,337.4 1305.7,338.0 1313.2,334.3 1320.8,332.9 1328.3,332.7 1335.8,335.5 1343.3,339.6 1350.8,337.2 1358.3,330.1 1365.8,330.5 1373.3,342.7 1380.8,332.8 1388.3,332.4 1395.8,328.1 1403.3,327.8 1410.9,310.0 1418.4,339.0 1425.9,328.4 1433.4,333.4 1440.9,333.5 1448.4,337.4 1455.9,342.6 1463.4,342.2 1470.9,338.9 1478.4,344.8 1485.9,328.5 1493.5,333.1 1501.0,309.4 1508.5,343.1 1516.0,341.6 1523.5,340.8 1531.0,340.6 1538.5,339.7 1546.0,342.2 1553.5,349.9 1561.0,347.7 1568.5,331.6 1576.1,339.8 1583.6,318.2 1591.1,339.9 1598.6,345.1 1606.1,336.8 1613.6,345.1 1621.1,340.9 1628.6,334.6 1636.1,328.3 1643.6,343.3 1651.1,340.5 1658.6,347.6 1666.2,346.6 1673.7,345.6 1681.2,341.3 1688.7,345.0 1696.2,332.4 1703.7,318.9 1703.7,362.6 1696.2,373.1 1688.7,362.6 1681.2,361.4 1673.7,362.6 1666.2,365.1 1658.6,366.2 1651.1,359.5 1643.6,361.5 1636.1,357.8 1628.6,361.5 1621.1,367.1 1613.6,362.7 1606.1,366.9 1598.6,359.4 1591.1,359.5 1583.6,358.5 1576.1,361.2 1568.5,355.6 1561.0,365.1 1553.5,374.4 1546.0,368.7 1538.5,351.6 1531.0,365.3 1523.5,360.6 1516.0,362.7 1508.5,362.6 1501.0,366.4 1493.5,360.1 1485.9,362.6 1478.4,360.2 1470.9,359.8 1463.4,374.4 1455.9,354.5 1448.4,353.9 1440.9,379.0 1433.4,358.8 1425.9,355.3 1418.4,351.8 1410.9,352.8 1403.3,342.7 1395.8,356.5 1388.3,346.3 1380.8,355.0 1373.3,357.8 1365.8,370.4 1358.3,363.0 1350.8,369.1 1343.3,364.1 1335.8,354.3 1328.3,353.0 1320.8,378.0 1313.2,351.3 1305.7,358.7 1298.2,356.9 1290.7,365.5 1283.2,344.3 1275.7,338.2 1268.2,353.6 1260.7,354.9 1253.2,343.7 1245.7,337.5 1238.2,334.2 1230.6,353.0 1223.1,346.9 1215.6,349.6 1208.1,347.9 1200.6,341.8 1193.1,338.9 1185.6,366.2 1178.1,339.2 1170.6,354.5 1163.1,330.7 1155.6,327.9 1148.0,338.6 1140.5,347.6 1133.0,337.3 1125.5,337.0 1118.0,335.3 1110.5,335.6 1103.0,330.7 1095.5,331.7 1088.0,320.2 1080.5,320.5 1073.0,320.5 1065.5,329.0 1057.9,312.3 1050.4,331.6 1042.9,331.9 1035.4,309.9 1027.9,308.0 1020.4,318.6 1012.9,310.5 1005.4,287.7 997.9,284.1 990.4,289.3 982.9,265.1 975.3,249.1 967.8,252.6 960.3,220.5" fill="#000000" fill-opacity="0.3"/>
<polyline points="952.8,-1125.2 960.3,273.4 967.8,305.5 975.3,333.9 982.9,353.3 990.4,343.3 997.9,349.0 1005.4,356.6 1012.9,400.0 1020.4,412.3 1027.9,410.4 1035.4,418.9 1042.9,427.2 1050.4,437.8 1057.9,445.4 1065.5,443.5 1073.0,451.1 1080.5,469.4 1088.0,487.9 1095.5,485.6 1103.0,494.9 1110.5,506.4 1118.0,508.7 1125.5,515.3 1133.0,520.0 1140.5,523.8 1148.0,527.2 1155.6,532.3 1163.1,537.1 1170.6,540.8 1178.1,544.6 1185.6,548.2 1193.1,552.2 1200.6,555.0 1208.1,557.5 1215.6,559.2 1223.1,559.7 1230.6,563.3 1238.2,564.8 1245.7,566.3 1253.2,566.7 1260.7,568.0 1268.2,569.6 1275.7,570.3 1283.2,571.1 1290.7,572.0 1298.2,572.0 1305.7,572.0 1313.2,572.7 1320.8,573.0 1328.3,573.5 1335.8,573.6 1343.3,573.2 1350.8,573.6 1358.3,573.6 1365.8,574.3 1373.3,574.5 1380.8,574.9 1388.3,574.7 1395.8,575.8 1403.3,574.9 1410.9,574.2 1418.4,574.9 1425.9,574.9 1433.4,574.6 1440.9,575.2 1448.4,575.0 1455.9,574.8 1463.4,575.8 1470.9,574.5 1478.4,575.2 1485.9,575.2 1493.5,575.0 1501.0,575.7 1508.5,575.5 1516.0,574.6 1523.5,575.5 1531.0,575.4 1538.5,575.1 1546.0,574.7 1553.5,575.8 1561.0,574.7 1568.5,575.2 1576.1,574.9 1583.6,575.7 1591.1,575.2 1598.6,574.7 1606.1,575.4 1613.6,575.6 1621.1,575.5 1628.6,575.6 1636.1,575.0 1643.6,575.3 1651.1,575.6 1658.6,575.1 1666.2,575.8 1673.7,575.8 1681.2,574.4 1688.7,575.7 1696.2,574.7 1703.7,575.4" fill="none" stroke="#17becf" stroke-width="3.8" stroke-linejoin="round" stroke-linecap="butt" stroke-dasharray="24.32,6.08,3.80,6.08" stroke-opacity="0.8"/>
<polyline points="952.8,-1125.2 960.3,254.5 967.8,292.3 975.3,311.2 982.9,324.4 990.4,330.1 997.9,333.9 1005.4,335.8 1012.9,337.7 1020.4,340.2 1027.9,337.7 1035.4,334.8 1042.9,341.4 1050.4,338.6 1057.9,345.0 1065.5,345.2 1073.0,346.0 1080.5,352.4 1088.0,347.7 1095.5,352.0 1103.0,353.7 1110.5,353.5 1118.0,350.3 1125.5,355.4 1133.0,352.0 1140.5,352.8 1148.0,355.2 1155.6,353.4 1163.1,350.3 1170.6,357.5 1178.1,352.8 1185.6,354.4 1193.1,349.4 1200.6,350.5 1208.1,352.9 1215.6,349.8 1223.1,349.5 1230.6,350.6 1238.2,352.8 1245.7,349.0 1253.2,349.9 1260.7,347.1 1268.2,351.5 1275.7,346.1 1283.2,348.3 1290.7,347.3 1298.2,353.5 1305.7,345.7 1313.2,346.7 1320.8,346.1 1328.3,349.0 1335.8,350.5 1343.3,347.9 1350.8,348.1 1358.3,346.5 1365.8,342.0 1373.3,351.5 1380.8,345.9 1388.3,349.2 1395.8,348.0 1403.3,348.1 1410.9,345.7 1418.4,348.8 1425.9,349.1 1433.4,346.9 1440.9,347.6 1448.4,347.4 1455.9,346.1 1463.4,347.0 1470.9,346.6 1478.4,347.1 1485.9,346.9 1493.5,345.1 1501.0,344.6 1508.5,347.6 1516.0,347.9 1523.5,347.8 1531.0,345.3 1538.5,344.2 1546.0,346.4 1553.5,346.2 1561.0,347.0 1568.5,346.9 1576.1,347.2 1583.6,346.8 1591.1,347.8 1598.6,345.5 1606.1,345.3 1613.6,345.5 1621.1,348.4 1628.6,346.2 1636.1,342.6 1643.6,344.1 1651.1,346.4 1658.6,344.7 1666.2,344.6 1673.7,346.1 1681.2,349.9 1688.7,347.6 1696.2,346.8 1703.7,346.2" fill="none" stroke="#17becf" stroke-width="3.8" stroke-linejoin="round" stroke-linecap="butt" stroke-dasharray="3.80,6.27" stroke-opacity="0.8"/>
<polyline points="952.8,-1125.2 960.3,263.9 967.8,296.1 975.3,315.0 982.9,326.3 990.4,332.0 997.9,335.8 1005.4,343.3 1012.9,350.9 1020.4,373.6 1027.9,367.9 1035.4,383.0 1042.9,391.9 1050.4,401.2 1057.9,397.6 1065.5,395.7 1073.0,410.4 1080.5,417.8 1088.0,425.2 1095.5,427.1 1103.0,440.1 1110.5,445.6 1118.0,445.6 1125.5,452.9 1133.0,467.1 1140.5,464.3 1148.0,464.3 1155.6,462.4 1163.1,476.4 1170.6,487.9 1178.1,492.6 1185.6,497.2 1193.1,504.2 1200.6,502.1 1208.1,511.2 1215.6,511.2 1223.1,515.3 1230.6,519.3 1238.2,521.9 1245.7,525.0 1253.2,526.7 1260.7,529.7 1268.2,531.4 1275.7,530.4 1283.2,528.5 1290.7,533.1 1298.2,534.6 1305.7,536.6 1313.2,537.7 1320.8,539.1 1328.3,542.1 1335.8,541.8 1343.3,542.3 1350.8,541.1 1358.3,546.0 1365.8,546.4 1373.3,546.9 1380.8,547.4 1388.3,550.3 1395.8,548.9 1403.3,549.3 1410.9,549.0 1418.4,550.7 1425.9,552.3 1433.4,551.6 1440.9,552.0 1448.4,553.3 1455.9,552.6 1463.4,553.1 1470.9,553.5 1478.4,553.9 1485.9,554.9 1493.5,552.9 1501.0,554.6 1508.5,554.7 1516.0,554.6 1523.5,555.4 1531.0,556.2 1538.5,555.8 1546.0,556.4 1553.5,556.9 1561.0,556.7 1568.5,556.9 1576.1,557.6 1583.6,557.2 1591.1,557.2 1598.6,556.7 1606.1,558.5 1613.6,556.8 1621.1,560.4 1628.6,558.2 1636.1,559.3 1643.6,558.4 1651.1,559.1 1658.6,558.1 1666.2,560.7 1673.7,560.2 1681.2,560.5 1688.7,559.0 1696.2,557.7 1703.7,559.2" fill="none" stroke="#1f77b4" stroke-width="2.9" stroke-linejoin="round" stroke-linecap="square"/>
<polyline points="952.8,-1125.2 960.3,245.0 967.8,273.4 975.3,282.8 982.9,288.5 990.4,292.3 997.9,301.7 1005.4,305.8 1012.9,311.2 1020.4,310.4 1027.9,315.0 1035.4,311.5 1042.9,307.3 1050.4,307.4 1057.9,304.6 1065.5,294.2 1073.0,305.2 1080.5,313.1 1088.0,314.4 1095.5,313.0 1103.0,316.9 1110.5,313.8 1118.0,310.7 1125.5,316.2 1133.0,308.2 1140.5,313.1 1148.0,313.9 1155.6,315.2 1163.1,319.1 1170.6,316.3 1178.1,318.8 1185.6,318.7 1193.1,324.5 1200.6,321.1 1208.1,319.0 1215.6,318.8 1223.1,318.7 1230.6,320.3 1238.2,316.6 1245.7,313.2 1253.2,315.0 1260.7,312.0 1268.2,318.0 1275.7,317.8 1283.2,320.5 1290.7,322.5 1298.2,326.5 1305.7,327.4 1313.2,328.7 1320.8,329.6 1328.3,325.8 1335.8,335.5 1343.3,330.1 1350.8,327.4 1358.3,330.7 1365.8,331.0 1373.3,328.9 1380.8,331.7 1388.3,329.4 1395.8,325.8 1403.3,330.1 1410.9,332.0 1418.4,329.7 1425.9,325.8 1433.4,330.5 1440.9,331.3 1448.4,330.1 1455.9,328.0 1463.4,333.4 1470.9,335.4 1478.4,328.2 1485.9,326.9 1493.5,327.2 1501.0,327.3 1508.5,328.2 1516.0,331.4 1523.5,323.2 1531.0,326.8 1538.5,329.0 1546.0,328.0 1553.5,326.3 1561.0,322.8 1568.5,323.0 1576.1,324.1 1583.6,329.3 1591.1,326.6 1598.6,324.0 1606.1,329.7 1613.6,330.5 1621.1,327.4 1628.6,328.2 1636.1,330.6 1643.6,325.8 1651.1,332.6 1658.6,329.3 1666.2,329.7 1673.7,330.6 1681.2,334.0 1688.7,326.7 1696.2,336.3 1703.7,332.9" fill="none" stroke="#1f77b4" stroke-width="2.9" stroke-linejoin="round" stroke-linecap="butt" stroke-dasharray="10.73,4.64"/>
<polyline points="952.8,-1125.2 960.3,263.9 967.8,311.2 975.3,335.8 982.9,347.1 990.4,349.0 997.9,356.6 1005.4,347.1 1012.9,398.1 1020.4,409.5 1027.9,413.3 1035.4,418.9 1042.9,427.1 1050.4,436.5 1057.9,443.9 1065.5,451.2 1073.0,456.7 1080.5,470.0 1088.0,485.1 1095.5,488.9 1103.0,494.5 1110.5,505.9 1118.0,509.6 1125.5,514.4 1133.0,521.0 1140.5,522.9 1148.0,527.6 1155.6,533.3 1163.1,538.0 1170.6,541.8 1178.1,543.7 1185.6,548.4 1193.1,552.2 1200.6,555.0 1208.1,557.8 1215.6,558.8 1223.1,560.7 1230.6,562.9 1238.2,564.8 1245.7,566.3 1253.2,567.3 1260.7,568.2 1268.2,569.6 1275.7,570.2 1283.2,571.1 1290.7,571.8 1298.2,572.0 1305.7,571.6 1313.2,573.4 1320.8,573.1 1328.3,573.5 1335.8,573.3 1343.3,573.5 1350.8,573.7 1358.3,574.4 1365.8,573.5 1373.3,574.6 1380.8,574.5 1388.3,574.6 1395.8,574.7 1403.3,574.9 1410.9,575.1 1418.4,574.3 1425.9,574.9 1433.4,574.6 1440.9,575.6 1448.4,574.8 1455.9,575.2 1463.4,575.0 1470.9,575.1 1478.4,575.2 1485.9,575.1 1493.5,575.3 1501.0,575.2 1508.5,575.2 1516.0,575.2 1523.5,575.2 1531.0,575.4 1538.5,575.1 1546.0,575.6 1553.5,574.5 1561.0,575.0 1568.5,574.7 1576.1,575.4 1583.6,575.8 1591.1,575.8 1598.6,575.6 1606.1,575.6 1613.6,575.5 1621.1,575.5 1628.6,575.1 1636.1,575.8 1643.6,574.7 1651.1,575.5 1658.6,575.3 1666.2,575.8 1673.7,575.3 1681.2,575.8 1688.7,575.2 1696.2,575.3 1703.7,575.4" fill="none" stroke="#bcbd22" stroke-width="3.8" stroke-linejoin="round" stroke-linecap="butt" stroke-dasharray="24.32,6.08,3.80,6.08" stroke-opacity="0.8"/>
<polyline points="952.8,-1125.2 960.3,245.0 967.8,288.5 975.3,311.2 982.9,326.3 990.4,333.9 997.9,335.8 1005.4,337.7 1012.9,339.5 1020.4,339.9 1027.9,339.5 1035.4,342.2 1042.9,343.3 1050.4,347.3 1057.9,348.3 1065.5,347.1 1073.0,347.1 1080.5,351.3 1088.0,351.7 1095.5,353.0 1103.0,352.8 1110.5,353.5 1118.0,352.6 1125.5,353.3 1133.0,354.4 1140.5,351.8 1148.0,352.2 1155.6,350.0 1163.1,352.0 1170.6,353.9 1178.1,351.8 1185.6,346.8 1193.1,352.7 1200.6,350.8 1208.1,351.8 1215.6,349.5 1223.1,350.0 1230.6,352.4 1238.2,348.1 1245.7,349.0 1253.2,349.9 1260.7,352.0 1268.2,351.3 1275.7,351.6 1283.2,347.3 1290.7,349.0 1298.2,348.9 1305.7,347.4 1313.2,346.4 1320.8,348.9 1328.3,349.0 1335.8,348.4 1343.3,349.4 1350.8,349.4 1358.3,349.2 1365.8,349.7 1373.3,348.1 1380.8,347.0 1388.3,351.3 1395.8,347.9 1403.3,349.0 1410.9,349.6 1418.4,349.2 1425.9,351.3 1433.4,352.4 1440.9,348.3 1448.4,349.0 1455.9,348.8 1463.4,347.9 1470.9,349.4 1478.4,347.1 1485.9,346.5 1493.5,344.6 1501.0,345.1 1508.5,346.5 1516.0,347.2 1523.5,347.2 1531.0,347.6 1538.5,347.8 1546.0,348.1 1553.5,347.1 1561.0,348.4 1568.5,339.8 1576.1,345.5 1583.6,345.7 1591.1,346.2 1598.6,348.0 1606.1,346.5 1613.6,348.5 1621.1,346.7 1628.6,346.2 1636.1,348.2 1643.6,347.1 1651.1,346.2 1658.6,344.5 1666.2,346.4 1673.7,347.5 1681.2,349.7 1688.7,345.9 1696.2,343.8 1703.7,345.2" fill="none" stroke="#bcbd22" stroke-width="3.8" stroke-linejoin="round" stroke-linecap="butt" stroke-dasharray="3.80,6.27" stroke-opacity="0.8"/>
<polyline points="952.8,-1125.2 960.3,263.9 967.8,292.3 975.3,311.2 982.9,322.5 990.4,330.1 997.9,326.3 1005.4,337.7 1012.9,352.8 1020.4,367.9 1027.9,366.0 1035.4,381.1 1042.9,388.7 1050.4,400.0 1057.9,401.9 1065.5,403.8 1073.0,407.6 1080.5,417.8 1088.0,428.9 1095.5,432.2 1103.0,439.7 1110.5,443.5 1118.0,446.1 1125.5,453.1 1133.0,458.6 1140.5,462.4 1148.0,466.2 1155.6,470.0 1163.1,476.4 1170.6,483.2 1178.1,488.9 1185.6,494.5 1193.1,498.3 1200.6,502.1 1208.1,507.8 1215.6,510.6 1223.1,513.4 1230.6,517.2 1238.2,520.0 1245.7,522.9 1253.2,524.8 1260.7,527.6 1268.2,528.5 1275.7,530.1 1283.2,531.4 1290.7,532.9 1298.2,536.1 1305.7,538.5 1313.2,537.6 1320.8,539.1 1328.3,540.7 1335.8,540.5 1343.3,542.3 1350.8,543.7 1358.3,544.7 1365.8,545.4 1373.3,546.9 1380.8,547.9 1388.3,548.1 1395.8,548.9 1403.3,549.3 1410.9,548.9 1418.4,550.3 1425.9,552.3 1433.4,551.6 1440.9,551.8 1448.4,552.2 1455.9,552.8 1463.4,553.1 1470.9,552.5 1478.4,553.0 1485.9,555.2 1493.5,553.4 1501.0,554.6 1508.5,555.2 1516.0,555.4 1523.5,555.7 1531.0,555.6 1538.5,555.1 1546.0,556.8 1553.5,556.0 1561.0,556.4 1568.5,557.0 1576.1,556.9 1583.6,557.2 1591.1,556.6 1598.6,556.7 1606.1,558.2 1613.6,557.5 1621.1,559.0 1628.6,557.8 1636.1,558.0 1643.6,557.7 1651.1,558.5 1658.6,556.6 1666.2,558.1 1673.7,559.2 1681.2,558.4 1688.7,559.3 1696.2,558.5 1703.7,558.8" fill="none" stroke="#2ca02c" stroke-width="2.9" stroke-linejoin="round" stroke-linecap="square"/>
<polyline points="952.8,-1125.2 960.3,235.6 967.8,263.9 975.3,273.4 982.9,282.8 990.4,286.6 997.9,288.5 1005.4,294.9 1012.9,292.3 1020.4,290.2 1027.9,290.4 1035.4,294.3 1042.9,301.4 1050.4,307.4 1057.9,300.4 1065.5,299.9 1073.0,303.5 1080.5,305.5 1088.0,306.0 1095.5,307.8 1103.0,311.2 1110.5,309.4 1118.0,312.9 1125.5,306.5 1133.0,310.3 1140.5,311.2 1148.0,310.5 1155.6,311.9 1163.1,317.6 1170.6,319.0 1178.1,318.8 1185.6,317.4 1193.1,319.1 1200.6,319.6 1208.1,319.4 1215.6,318.8 1223.1,318.3 1230.6,320.5 1238.2,325.3 1245.7,322.1 1253.2,322.5 1260.7,322.0 1268.2,323.6 1275.7,320.0 1283.2,326.3 1290.7,325.0 1298.2,320.2 1305.7,323.7 1313.2,322.8 1320.8,323.2 1328.3,324.4 1335.8,323.0 1343.3,323.6 1350.8,327.2 1358.3,320.4 1365.8,325.7 1373.3,325.0 1380.8,323.4 1388.3,323.2 1395.8,324.9 1403.3,326.3 1410.9,328.5 1418.4,327.8 1425.9,323.1 1433.4,323.9 1440.9,322.1 1448.4,322.4 1455.9,326.0 1463.4,324.6 1470.9,319.2 1478.4,324.4 1485.9,325.5 1493.5,327.8 1501.0,321.0 1508.5,326.6 1516.0,323.6 1523.5,330.3 1531.0,328.8 1538.5,326.9 1546.0,327.6 1553.5,328.2 1561.0,327.1 1568.5,326.8 1576.1,327.7 1583.6,332.4 1591.1,326.3 1598.6,327.0 1606.1,329.4 1613.6,329.3 1621.1,334.8 1628.6,330.1 1636.1,329.5 1643.6,328.1 1651.1,331.5 1658.6,329.7 1666.2,331.5 1673.7,327.0 1681.2,325.3 1688.7,330.8 1696.2,331.3 1703.7,330.1" fill="none" stroke="#2ca02c" stroke-width="2.9" stroke-linejoin="round" stroke-linecap="butt" stroke-dasharray="10.73,4.64"/>
<polyline points="952.8,-1125.2 960.3,254.5 967.8,301.7 975.3,330.1 982.9,339.5 990.4,349.0 997.9,358.4 1005.4,358.4 1012.9,362.2 1020.4,375.5 1027.9,377.3 1035.4,388.7 1042.9,396.2 1050.4,403.8 1057.9,407.6 1065.5,407.6 1073.0,417.0 1080.5,424.6 1088.0,432.2 1095.5,425.2 1103.0,437.8 1110.5,443.5 1118.0,445.4 1125.5,451.1 1133.0,454.8 1140.5,456.7 1148.0,458.6 1155.6,460.5 1163.1,462.4 1170.6,471.7 1178.1,333.9 1185.6,487.9 1193.1,476.4 1200.6,499.4 1208.1,487.9 1215.6,492.6 1223.1,499.4 1230.6,496.4 1238.2,483.2 1245.7,504.0 1253.2,502.1 1260.7,502.1 1268.2,509.6 1275.7,518.0 1283.2,520.2 1290.7,513.4 1298.2,505.1 1305.7,523.6 1313.2,522.9 1320.8,523.6 1328.3,526.7 1335.8,524.8 1343.3,523.6 1350.8,528.5 1358.3,529.9 1365.8,523.6 1373.3,522.1 1380.8,542.3 1388.3,541.8 1395.8,542.3 1403.3,538.0 1410.9,536.1 1418.4,540.8 1425.9,538.0 1433.4,536.1 1440.9,548.4 1448.4,545.4 1455.9,547.4 1463.4,550.1 1470.9,556.1 1478.4,553.1 1485.9,555.0 1493.5,556.1 1501.0,556.9 1508.5,555.0 1516.0,551.2 1523.5,556.9 1531.0,556.9 1538.5,557.8 1546.0,559.7 1553.5,562.6 1561.0,565.5 1568.5,563.5 1576.1,565.6 1583.6,565.4 1591.1,565.5 1598.6,566.9 1606.1,569.1 1613.6,568.4 1621.1,570.4 1628.6,567.9 1636.1,571.5 1643.6,568.6 1651.1,567.6 1658.6,568.6 1666.2,570.0 1673.7,570.1 1681.2,571.8 1688.7,570.5 1696.2,573.2 1703.7,571.6" fill="none" stroke="#e377c2" stroke-width="3.8" stroke-linejoin="round" stroke-linecap="butt" stroke-dasharray="24.32,6.08,3.80,6.08" stroke-opacity="0.8"/>
<polyline points="952.8,-1125.2 960.3,245.0 967.8,282.8 975.3,301.7 982.9,311.2 990.4,315.0 997.9,318.8 1005.4,322.6 1012.9,322.5 1020.4,325.8 1027.9,324.4 1035.4,327.4 1042.9,330.1 1050.4,331.8 1057.9,332.2 1065.5,332.0 1073.0,335.5 1080.5,333.9 1088.0,337.1 1095.5,338.7 1103.0,339.5 1110.5,341.3 1118.0,338.6 1125.5,343.2 1133.0,341.4 1140.5,338.6 1148.0,350.9 1155.6,343.6 1163.1,347.7 1170.6,347.1 1178.1,326.3 1185.6,349.0 1193.1,351.9 1200.6,355.4 1208.1,354.7 1215.6,357.6 1223.1,353.7 1230.6,353.9 1238.2,354.5 1245.7,357.6 1253.2,358.4 1260.7,362.8 1268.2,359.8 1275.7,355.2 1283.2,360.2 1290.7,356.2 1298.2,359.1 1305.7,359.8 1313.2,355.3 1320.8,359.2 1328.3,360.3 1335.8,361.3 1343.3,360.4 1350.8,363.2 1358.3,359.8 1365.8,358.4 1373.3,363.5 1380.8,360.5 1388.3,362.1 1395.8,359.0 1403.3,362.2 1410.9,362.9 1418.4,363.8 1425.9,363.7 1433.4,360.7 1440.9,362.5 1448.4,364.4 1455.9,362.3 1463.4,362.9 1470.9,360.4 1478.4,362.2 1485.9,364.7 1493.5,357.8 1501.0,364.5 1508.5,362.2 1516.0,363.3 1523.5,362.8 1531.0,366.4 1538.5,360.2 1546.0,365.5 1553.5,363.2 1561.0,366.6 1568.5,358.0 1576.1,360.9 1583.6,362.9 1591.1,360.8 1598.6,360.2 1606.1,363.4 1613.6,363.8 1621.1,365.4 1628.6,362.2 1636.1,364.1 1643.6,361.9 1651.1,364.0 1658.6,360.4 1666.2,360.1 1673.7,362.7 1681.2,366.7 1688.7,363.1 1696.2,365.3 1703.7,363.2" fill="none" stroke="#e377c2" stroke-width="3.8" stroke-linejoin="round" stroke-linecap="butt" stroke-dasharray="3.80,6.27" stroke-opacity="0.8"/>
<polyline points="952.8,-1125.2 960.3,216.7 967.8,282.8 975.3,292.3 982.9,299.9 990.4,301.7 997.9,296.1 1005.4,276.2 1012.9,299.9 1020.4,333.9 1027.9,339.5 1035.4,330.1 1042.9,345.2 1050.4,343.3 1057.9,364.1 1065.5,350.1 1073.0,360.3 1080.5,367.9 1088.0,372.4 1095.5,352.8 1103.0,378.9 1110.5,388.1 1118.0,399.3 1125.5,385.5 1133.0,401.2 1140.5,398.1 1148.0,404.8 1155.6,405.7 1163.1,401.9 1170.6,425.4 1178.1,351.8 1185.6,438.4 1193.1,432.2 1200.6,432.7 1208.1,434.0 1215.6,432.7 1223.1,435.9 1230.6,439.2 1238.2,419.7 1245.7,440.1 1253.2,445.4 1260.7,451.1 1268.2,445.4 1275.7,452.9 1283.2,460.5 1290.7,449.2 1298.2,417.0 1305.7,463.5 1313.2,452.9 1320.8,462.4 1328.3,468.1 1335.8,469.8 1343.3,465.0 1350.8,468.1 1358.3,472.8 1365.8,470.0 1373.3,472.8 1380.8,479.0 1388.3,480.5 1395.8,483.6 1403.3,491.3 1410.9,479.0 1418.4,477.5 1425.9,488.1 1433.4,474.3 1440.9,489.8 1448.4,479.0 1455.9,483.6 1463.4,486.6 1470.9,497.4 1478.4,482.1 1485.9,491.3 1493.5,490.7 1501.0,498.3 1508.5,507.8 1516.0,481.5 1523.5,503.0 1531.0,502.1 1538.5,501.5 1546.0,512.3 1553.5,513.8 1561.0,517.8 1568.5,515.3 1576.1,515.3 1583.6,522.1 1591.1,509.8 1598.6,517.8 1606.1,520.2 1613.6,519.1 1621.1,509.8 1628.6,517.2 1636.1,525.5 1643.6,518.0 1651.1,523.3 1658.6,525.0 1666.2,529.7 1673.7,530.1 1681.2,528.2 1688.7,530.4 1696.2,532.9 1703.7,531.0" fill="none" stroke="#ff7f0e" stroke-width="2.9" stroke-linejoin="round" stroke-linecap="square"/>
<polyline points="952.8,-1125.2 960.3,207.2 967.8,245.0 975.3,260.2 982.9,258.3 990.4,254.5 997.9,246.9 1005.4,231.8 1012.9,254.5 1020.4,279.6 1027.9,279.6 1035.4,261.1 1042.9,276.0 1050.4,263.0 1057.9,290.8 1065.5,270.4 1073.0,283.4 1080.5,285.3 1088.0,288.5 1095.5,266.6 1103.0,283.4 1110.5,290.4 1118.0,300.4 1125.5,283.4 1133.0,298.5 1140.5,287.0 1148.0,294.2 1155.6,294.2 1163.1,294.2 1170.6,302.1 1178.1,237.5 1185.6,311.2 1193.1,294.2 1200.6,309.3 1208.1,303.6 1215.6,301.7 1223.1,299.9 1230.6,298.0 1238.2,286.6 1245.7,296.1 1253.2,297.0 1260.7,298.0 1268.2,304.2 1275.7,312.3 1283.2,312.3 1290.7,296.1 1298.2,278.1 1305.7,308.4 1313.2,296.1 1320.8,294.2 1328.3,306.3 1335.8,312.3 1343.3,303.6 1350.8,306.3 1358.3,303.6 1365.8,299.9 1373.3,308.4 1380.8,306.3 1388.3,312.3 1395.8,308.4 1403.3,316.3 1410.9,306.3 1418.4,306.3 1425.9,318.4 1433.4,306.3 1440.9,316.3 1448.4,304.2 1455.9,308.4 1463.4,307.4 1470.9,312.3 1478.4,304.2 1485.9,312.3 1493.5,309.3 1501.0,306.3 1508.5,314.2 1516.0,298.2 1523.5,312.3 1531.0,304.2 1538.5,311.2 1546.0,314.2 1553.5,319.3 1561.0,322.5 1568.5,311.2 1576.1,316.9 1583.6,322.5 1591.1,314.2 1598.6,314.2 1606.1,320.6 1613.6,324.4 1621.1,312.3 1628.6,318.4 1636.1,320.6 1643.6,320.6 1651.1,318.8 1658.6,316.3 1666.2,327.5 1673.7,324.4 1681.2,324.4 1688.7,324.4 1696.2,324.4 1703.7,325.4" fill="none" stroke="#ff7f0e" stroke-width="2.9" stroke-linejoin="round" stroke-linecap="butt" stroke-dasharray="10.73,4.64"/>
<polyline points="952.8,-1125.2 960.3,212.9 967.8,243.2 975.3,273.4 982.9,307.4 990.4,294.8 997.9,316.9 1005.4,326.3 1012.9,342.8 1020.4,348.1 1027.9,349.0 1035.4,354.7 1042.9,377.0 1050.4,376.0 1057.9,369.8 1065.5,384.9 1073.0,380.0 1080.5,386.8 1088.0,371.7 1095.5,401.2 1103.0,397.6 1110.5,396.6 1118.0,404.8 1125.5,413.3 1133.0,401.2 1140.5,414.2 1148.0,416.1 1155.6,407.6 1163.1,417.8 1170.6,423.5 1178.1,414.2 1185.6,435.4 1193.1,422.5 1200.6,440.1 1208.1,438.2 1215.6,442.0 1223.1,451.2 1230.6,443.9 1238.2,419.7 1245.7,441.0 1253.2,451.1 1260.7,457.9 1268.2,447.3 1275.7,441.6 1283.2,451.1 1290.7,457.3 1298.2,452.6 1305.7,468.1 1313.2,465.0 1320.8,462.4 1328.3,460.5 1335.8,463.5 1343.3,472.8 1350.8,477.5 1358.3,479.4 1365.8,475.6 1373.3,472.8 1380.8,483.6 1388.3,472.8 1395.8,472.8 1403.3,458.8 1410.9,477.5 1418.4,471.3 1425.9,486.6 1433.4,488.1 1440.9,487.0 1448.4,488.1 1455.9,482.1 1463.4,485.1 1470.9,479.0 1478.4,492.8 1485.9,486.6 1493.5,488.9 1501.0,493.8 1508.5,503.0 1516.0,507.8 1523.5,504.5 1531.0,500.0 1538.5,493.8 1546.0,507.8 1553.5,506.2 1561.0,512.3 1568.5,498.5 1576.1,506.2 1583.6,487.7 1591.1,501.5 1598.6,508.7 1606.1,503.0 1613.6,505.9 1621.1,509.6 1628.6,499.3 1636.1,511.5 1643.6,501.3 1651.1,505.5 1658.6,507.8 1666.2,515.3 1673.7,507.4 1681.2,509.3 1688.7,509.6 1696.2,516.6 1703.7,515.3" fill="none" stroke="#000000" stroke-width="2.9" stroke-linejoin="round" stroke-linecap="square"/>
<polyline points="952.8,-1125.2 960.3,182.7 967.8,214.8 975.3,237.5 982.9,258.3 990.4,263.9 997.9,275.3 1005.4,276.2 1012.9,298.9 1020.4,300.8 1027.9,298.9 1035.4,303.6 1042.9,320.6 1050.4,313.1 1057.9,307.4 1065.5,313.1 1073.0,311.2 1080.5,309.3 1088.0,303.6 1095.5,324.4 1103.0,320.6 1110.5,318.8 1118.0,322.5 1125.5,328.0 1133.0,319.5 1140.5,330.7 1148.0,331.6 1155.6,320.5 1163.1,322.5 1170.6,330.1 1178.1,324.4 1185.6,337.1 1193.1,328.0 1200.6,335.2 1208.1,339.0 1215.6,340.9 1223.1,340.9 1230.6,340.9 1238.2,324.4 1245.7,330.1 1253.2,337.7 1260.7,344.3 1268.2,337.7 1275.7,330.1 1283.2,337.7 1290.7,346.4 1298.2,349.0 1305.7,350.3 1313.2,344.3 1320.8,343.3 1328.3,342.4 1335.8,343.3 1343.3,346.4 1350.8,349.0 1358.3,351.3 1365.8,350.3 1373.3,349.9 1380.8,345.2 1388.3,338.4 1395.8,349.0 1403.3,333.9 1410.9,344.3 1418.4,346.4 1425.9,350.3 1433.4,350.9 1440.9,352.4 1448.4,347.3 1455.9,349.0 1463.4,350.9 1470.9,344.3 1478.4,352.4 1485.9,348.4 1493.5,347.3 1501.0,349.9 1508.5,353.3 1516.0,350.9 1523.5,350.3 1531.0,349.0 1538.5,346.4 1546.0,356.4 1553.5,357.5 1561.0,358.4 1568.5,346.4 1576.1,350.3 1583.6,338.4 1591.1,350.3 1598.6,354.3 1606.1,356.4 1613.6,352.8 1621.1,350.9 1628.6,350.3 1636.1,346.4 1643.6,352.8 1651.1,350.3 1658.6,354.3 1666.2,360.3 1673.7,354.3 1681.2,355.6 1688.7,356.4 1696.2,350.3 1703.7,356.4" fill="none" stroke="#000000" stroke-width="2.9" stroke-linejoin="round" stroke-linecap="butt" stroke-dasharray="10.73,4.64"/>
</g>
<line x1="1101.90" y1="43.00" x2="1155.50" y2="43.00" stroke="#17becf" stroke-width="3.8" stroke-linecap="butt" stroke-dasharray="24.32,6.08,3.80,6.08" stroke-opacity="0.8"/>
<text x="1176.30" y="52.50" class="lg2" style="white-space:pre">Bayes BPI train</text>
<line x1="1101.90" y1="81.10" x2="1155.50" y2="81.10" stroke="#17becf" stroke-width="3.8" stroke-linecap="butt" stroke-dasharray="3.80,6.27" stroke-opacity="0.8"/>
<text x="1176.30" y="90.60" class="lg2" style="white-space:pre">Bayes BPI test</text>
<line x1="1101.90" y1="119.20" x2="1155.50" y2="119.20" stroke="#1f77b4" stroke-width="2.9" stroke-linecap="square"/>
<text x="1176.30" y="128.70" class="lg2" style="white-space:pre">BPI train</text>
<line x1="1101.90" y1="157.30" x2="1155.50" y2="157.30" stroke="#1f77b4" stroke-width="2.9" stroke-linecap="butt" stroke-dasharray="10.73,4.64"/>
<text x="1176.30" y="166.80" class="lg2" style="white-space:pre">BPI test</text>
<line x1="1101.90" y1="195.40" x2="1155.50" y2="195.40" stroke="#bcbd22" stroke-width="3.8" stroke-linecap="butt" stroke-dasharray="24.32,6.08,3.80,6.08" stroke-opacity="0.8"/>
<text x="1176.30" y="204.90" class="lg2" style="white-space:pre">Bayes AMP train</text>
<line x1="1101.90" y1="233.50" x2="1155.50" y2="233.50" stroke="#bcbd22" stroke-width="3.8" stroke-linecap="butt" stroke-dasharray="3.80,6.27" stroke-opacity="0.8"/>
<text x="1176.30" y="243.00" class="lg2" style="white-space:pre">Bayes AMP test</text>
<line x1="1101.90" y1="271.60" x2="1155.50" y2="271.60" stroke="#2ca02c" stroke-width="2.9" stroke-linecap="square"/>
<text x="1176.30" y="281.10" class="lg2" style="white-space:pre">AMP train</text>
<line x1="1426.00" y1="43.00" x2="1479.60" y2="43.00" stroke="#2ca02c" stroke-width="2.9" stroke-linecap="butt" stroke-dasharray="10.73,4.64"/>
<text x="1500.40" y="52.50" class="lg2" style="white-space:pre">AMP test</text>
<line x1="1426.00" y1="81.10" x2="1479.60" y2="81.10" stroke="#e377c2" stroke-width="3.8" stroke-linecap="butt" stroke-dasharray="24.32,6.08,3.80,6.08" stroke-opacity="0.8"/>
<text x="1500.40" y="90.60" class="lg2" style="white-space:pre">Bayes MF train</text>
<line x1="1426.00" y1="119.20" x2="1479.60" y2="119.20" stroke="#e377c2" stroke-width="3.8" stroke-linecap="butt" stroke-dasharray="3.80,6.27" stroke-opacity="0.8"/>
<text x="1500.40" y="128.70" class="lg2" style="white-space:pre">Bayes MF test</text>
<line x1="1426.00" y1="157.30" x2="1479.60" y2="157.30" stroke="#ff7f0e" stroke-width="2.9" stroke-linecap="square"/>
<text x="1500.40" y="166.80" class="lg2" style="white-space:pre">MF train</text>
<line x1="1426.00" y1="195.40" x2="1479.60" y2="195.40" stroke="#ff7f0e" stroke-width="2.9" stroke-linecap="butt" stroke-dasharray="10.73,4.64"/>
<text x="1500.40" y="204.90" class="lg2" style="white-space:pre">MF test</text>
<line x1="1426.00" y1="233.50" x2="1479.60" y2="233.50" stroke="#000000" stroke-width="2.9" stroke-linecap="square"/>
<text x="1500.40" y="243.00" class="lg2" style="white-space:pre">BinaryNet train</text>
<line x1="1426.00" y1="271.60" x2="1479.60" y2="271.60" stroke="#000000" stroke-width="2.9" stroke-linecap="butt" stroke-dasharray="10.73,4.64"/>
<text x="1500.40" y="281.10" class="lg2" style="white-space:pre">BinaryNet test</text>
<rect x="76.05" y="24.00" width="758.75" height="536.95" fill="none" stroke="#c8c8c8" stroke-width="1.6"/>
<rect x="937.80" y="8.80" width="765.90" height="567.00" fill="none" stroke="#c8c8c8" stroke-width="1.6"/>
<text x="110.54" y="586.85" text-anchor="middle" class="tk">0</text>
<text x="248.49" y="586.85" text-anchor="middle" class="tk">20</text>
<text x="386.45" y="586.85" text-anchor="middle" class="tk">40</text>
<text x="524.40" y="586.85" text-anchor="middle" class="tk">60</text>
<text x="662.36" y="586.85" text-anchor="middle" class="tk">80</text>
<text x="800.31" y="586.85" text-anchor="middle" class="tk">100</text>
<rect x="779" y="584" width="5.44" height="4" fill="#fff"/>
<rect x="787.31" y="584" width="5.69" height="4" fill="#fff"/>
<text x="69.45" y="570.94" text-anchor="end" class="tk">0</text>
<text x="69.45" y="463.55" text-anchor="end" class="tk">5</text>
<text x="69.45" y="356.16" text-anchor="end" class="tk">10</text>
<rect x="41" y="353" width="5.13" height="4" fill="#fff"/>
<rect x="49.00" y="353" width="5.00" height="4" fill="#fff"/>
<text x="69.45" y="248.77" text-anchor="end" class="tk">15</text>
<rect x="41" y="246" width="5.13" height="4" fill="#fff"/>
<rect x="49.00" y="246" width="5.00" height="4" fill="#fff"/>
<text x="69.45" y="141.38" text-anchor="end" class="tk">20</text>
<text x="69.45" y="33.99" text-anchor="end" class="tk">25</text>
<text x="952.82" y="601.70" text-anchor="middle" class="tk2">0</text>
<text x="1102.99" y="601.70" text-anchor="middle" class="tk2">20</text>
<text x="1253.17" y="601.70" text-anchor="middle" class="tk2">40</text>
<text x="1403.35" y="601.70" text-anchor="middle" class="tk2">60</text>
<text x="1553.52" y="601.70" text-anchor="middle" class="tk2">80</text>
<text x="1703.70" y="601.70" text-anchor="middle" class="tk2">100</text>
<text x="930.90" y="585.79" text-anchor="end" class="tk2">0</text>
<text x="930.90" y="491.29" text-anchor="end" class="tk2">5</text>
<text x="930.90" y="396.79" text-anchor="end" class="tk2">10</text>
<text x="930.90" y="302.29" text-anchor="end" class="tk2">15</text>
<text x="930.90" y="207.79" text-anchor="end" class="tk2">20</text>
<text x="930.90" y="113.29" text-anchor="end" class="tk2">25</text>
<text x="930.90" y="18.79" text-anchor="end" class="tk2">30</text>
<text transform="translate(455.42,625.40) scale(1.027,1)" x="0" y="0" text-anchor="middle" class="lb">epochs</text>
<text transform="translate(24.60,292.48) rotate(-90) scale(1.027,1)" x="0" y="0" text-anchor="middle" class="lb">error (%)</text>
<text transform="translate(1320.75,640.00) scale(1.027,1)" x="0" y="0" text-anchor="middle" class="lb2">epochs</text>
<text transform="translate(887.00,292.30) rotate(-90) scale(1.027,1)" x="0" y="0" text-anchor="middle" class="lb2">error (%)</text>
</svg>
</body></html>
